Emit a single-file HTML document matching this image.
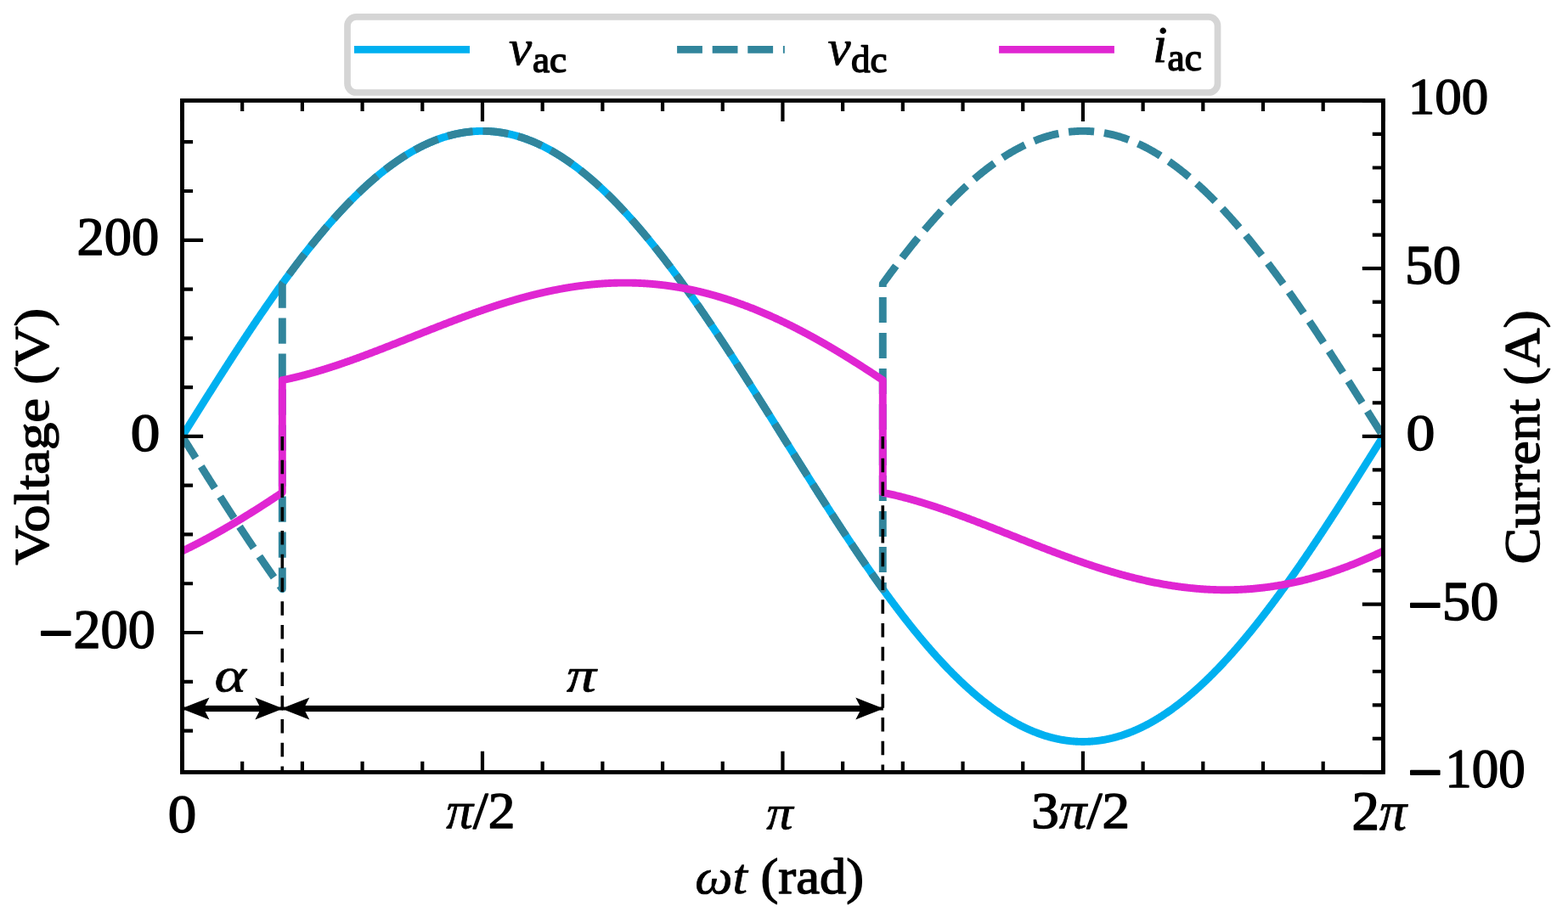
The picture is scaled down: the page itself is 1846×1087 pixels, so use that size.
<!DOCTYPE html>
<html><head><meta charset="utf-8"><style>
html,body{margin:0;padding:0;background:#fff;}
svg{display:block;}
text{font-family:"Liberation Serif","DejaVu Serif",serif;font-size:64.8px;fill:#000;stroke:#000;stroke-width:1.5px;stroke-linejoin:round;}
.it{font-style:italic;stroke-width:0.8px;}
</style></head><body>
<svg width="1846" height="1087" viewBox="0 0 1846 1087">
<rect x="0" y="0" width="1846" height="1087" fill="#fff"/>
<defs><clipPath id="ax"><rect x="214.5" y="118.4" width="1413.9" height="791.0"/></clipPath></defs>

<g clip-path="url(#ax)" fill="none" stroke-linejoin="round">
<path d="M214.50,513.90 L215.21,512.77 L215.91,511.64 L216.62,510.51 L217.33,509.38 L218.03,508.25 L218.74,507.12 L219.45,505.99 L220.16,504.86 L220.86,503.74 L221.57,502.61 L222.28,501.48 L222.98,500.35 L223.69,499.22 L224.40,498.09 L225.10,496.96 L225.81,495.83 L226.52,494.71 L227.23,493.58 L227.93,492.45 L228.64,491.32 L229.35,490.20 L230.05,489.07 L230.76,487.94 L231.47,486.82 L232.17,485.69 L232.88,484.56 L233.59,483.44 L234.29,482.31 L235.00,481.19 L235.71,480.06 L236.42,478.94 L237.12,477.82 L237.83,476.69 L238.54,475.57 L239.24,474.45 L239.95,473.32 L240.66,472.20 L241.36,471.08 L242.07,469.96 L242.78,468.84 L243.48,467.72 L244.19,466.60 L244.90,465.48 L245.61,464.36 L246.31,463.24 L247.02,462.12 L247.73,461.00 L248.43,459.89 L249.14,458.77 L249.85,457.65 L250.55,456.54 L251.26,455.42 L251.97,454.31 L252.68,453.20 L253.38,452.08 L254.09,450.97 L254.80,449.86 L255.50,448.75 L256.21,447.64 L256.92,446.53 L257.62,445.42 L258.33,444.31 L259.04,443.20 L259.74,442.10 L260.45,440.99 L261.16,439.88 L261.87,438.78 L262.57,437.67 L263.28,436.57 L263.99,435.47 L264.69,434.37 L265.40,433.26 L266.11,432.16 L266.81,431.06 L267.52,429.97 L268.23,428.87 L268.94,427.77 L269.64,426.67 L270.35,425.58 L271.06,424.48 L271.76,423.39 L272.47,422.30 L273.18,421.21 L273.88,420.12 L274.59,419.03 L275.30,417.94 L276.00,416.85 L276.71,415.76 L277.42,414.68 L278.13,413.59 L278.83,412.51 L279.54,411.42 L280.25,410.34 L280.95,409.26 L281.66,408.18 L282.37,407.10 L283.07,406.02 L283.78,404.95 L284.49,403.87 L285.19,402.79 L285.90,401.72 L286.61,400.65 L287.32,399.58 L288.02,398.51 L288.73,397.44 L289.44,396.37 L290.14,395.30 L290.85,394.24 L291.56,393.17 L292.26,392.11 L292.97,391.05 L293.68,389.99 L294.39,388.93 L295.09,387.87 L295.80,386.81 L296.51,385.75 L297.21,384.70 L297.92,383.65 L298.63,382.59 L299.33,381.54 L300.04,380.49 L300.75,379.44 L301.45,378.40 L302.16,377.35 L302.87,376.31 L303.58,375.27 L304.28,374.22 L304.99,373.18 L305.70,372.14 L306.40,371.11 L307.11,370.07 L307.82,369.04 L308.52,368.00 L309.23,366.97 L309.94,365.94 L310.65,364.91 L311.35,363.89 L312.06,362.86 L312.77,361.84 L313.47,360.81 L314.18,359.79 L314.89,358.77 L315.59,357.75 L316.30,356.74 L317.01,355.72 L317.71,354.71 L318.42,353.70 L319.13,352.69 L319.84,351.68 L320.54,350.67 L321.25,349.66 L321.96,348.66 L322.66,347.66 L323.37,346.66 L324.08,345.66 L324.78,344.66 L325.49,343.66 L326.20,342.67 L326.91,341.68 L327.61,340.69 L328.32,339.70 L329.03,338.71 L329.73,337.73 L330.44,336.74 L331.15,335.76 L331.85,334.78 L332.56,333.80 L333.27,332.82 L333.97,331.85 L334.68,330.88 L335.39,329.91 L336.10,328.94 L336.80,327.97 L337.51,327.00 L338.22,326.04 L338.92,325.08 L339.63,324.12 L340.34,323.16 L341.04,322.20 L341.75,321.25 L342.46,320.29 L343.16,319.34 L343.87,318.39 L344.58,317.45 L345.29,316.50 L345.99,315.56 L346.70,314.62 L347.41,313.68 L348.11,312.74 L348.82,311.81 L349.53,310.87 L350.23,309.94 L350.94,309.01 L351.65,308.08 L352.36,307.16 L353.06,306.24 L353.77,305.32 L354.48,304.40 L355.18,303.48 L355.89,302.56 L356.60,301.65 L357.30,300.74 L358.01,299.83 L358.72,298.93 L359.42,298.02 L360.13,297.12 L360.84,296.22 L361.55,295.32 L362.25,294.43 L362.96,293.53 L363.67,292.64 L364.37,291.75 L365.08,290.86 L365.79,289.98 L366.49,289.10 L367.20,288.22 L367.91,287.34 L368.62,286.46 L369.32,285.59 L370.03,284.72 L370.74,283.85 L371.44,282.98 L372.15,282.12 L372.86,281.25 L373.56,280.39 L374.27,279.54 L374.98,278.68 L375.68,277.83 L376.39,276.98 L377.10,276.13 L377.81,275.28 L378.51,274.44 L379.22,273.60 L379.93,272.76 L380.63,271.92 L381.34,271.09 L382.05,270.26 L382.75,269.43 L383.46,268.60 L384.17,267.77 L384.87,266.95 L385.58,266.13 L386.29,265.31 L387.00,264.50 L387.70,263.69 L388.41,262.88 L389.12,262.07 L389.82,261.27 L390.53,260.46 L391.24,259.66 L391.94,258.87 L392.65,258.07 L393.36,257.28 L394.07,256.49 L394.77,255.70 L395.48,254.92 L396.19,254.13 L396.89,253.35 L397.60,252.58 L398.31,251.80 L399.01,251.03 L399.72,250.26 L400.43,249.49 L401.13,248.73 L401.84,247.97 L402.55,247.21 L403.26,246.45 L403.96,245.70 L404.67,244.95 L405.38,244.20 L406.08,243.46 L406.79,242.71 L407.50,241.97 L408.20,241.23 L408.91,240.50 L409.62,239.77 L410.33,239.04 L411.03,238.31 L411.74,237.59 L412.45,236.87 L413.15,236.15 L413.86,235.43 L414.57,234.72 L415.27,234.01 L415.98,233.30 L416.69,232.59 L417.39,231.89 L418.10,231.19 L418.81,230.50 L419.52,229.80 L420.22,229.11 L420.93,228.42 L421.64,227.74 L422.34,227.06 L423.05,226.38 L423.76,225.70 L424.46,225.03 L425.17,224.36 L425.88,223.69 L426.59,223.02 L427.29,222.36 L428.00,221.70 L428.71,221.04 L429.41,220.39 L430.12,219.74 L430.83,219.09 L431.53,218.44 L432.24,217.80 L432.95,217.16 L433.65,216.53 L434.36,215.89 L435.07,215.26 L435.78,214.64 L436.48,214.01 L437.19,213.39 L437.90,212.77 L438.60,212.15 L439.31,211.54 L440.02,210.93 L440.72,210.33 L441.43,209.72 L442.14,209.12 L442.84,208.52 L443.55,207.93 L444.26,207.34 L444.97,206.75 L445.67,206.16 L446.38,205.58 L447.09,205.00 L447.79,204.42 L448.50,203.85 L449.21,203.28 L449.91,202.71 L450.62,202.15 L451.33,201.59 L452.04,201.03 L452.74,200.47 L453.45,199.92 L454.16,199.37 L454.86,198.83 L455.57,198.29 L456.28,197.75 L456.98,197.21 L457.69,196.68 L458.40,196.15 L459.10,195.62 L459.81,195.10 L460.52,194.57 L461.23,194.06 L461.93,193.54 L462.64,193.03 L463.35,192.52 L464.05,192.02 L464.76,191.52 L465.47,191.02 L466.17,190.52 L466.88,190.03 L467.59,189.54 L468.30,189.06 L469.00,188.57 L469.71,188.09 L470.42,187.62 L471.12,187.15 L471.83,186.68 L472.54,186.21 L473.24,185.75 L473.95,185.29 L474.66,184.83 L475.36,184.38 L476.07,183.93 L476.78,183.48 L477.49,183.03 L478.19,182.59 L478.90,182.16 L479.61,181.72 L480.31,181.29 L481.02,180.87 L481.73,180.44 L482.43,180.02 L483.14,179.60 L483.85,179.19 L484.55,178.78 L485.26,178.37 L485.97,177.97 L486.68,177.57 L487.38,177.17 L488.09,176.77 L488.80,176.38 L489.50,175.99 L490.21,175.61 L490.92,175.23 L491.62,174.85 L492.33,174.48 L493.04,174.11 L493.75,173.74 L494.45,173.38 L495.16,173.01 L495.87,172.66 L496.57,172.30 L497.28,171.95 L497.99,171.60 L498.69,171.26 L499.40,170.92 L500.11,170.58 L500.81,170.25 L501.52,169.92 L502.23,169.59 L502.94,169.27 L503.64,168.95 L504.35,168.63 L505.06,168.32 L505.76,168.01 L506.47,167.70 L507.18,167.40 L507.88,167.10 L508.59,166.80 L509.30,166.51 L510.01,166.22 L510.71,165.93 L511.42,165.65 L512.13,165.37 L512.83,165.10 L513.54,164.82 L514.25,164.55 L514.95,164.29 L515.66,164.03 L516.37,163.77 L517.07,163.51 L517.78,163.26 L518.49,163.01 L519.20,162.77 L519.90,162.53 L520.61,162.29 L521.32,162.06 L522.02,161.82 L522.73,161.60 L523.44,161.37 L524.14,161.15 L524.85,160.94 L525.56,160.72 L526.26,160.51 L526.97,160.31 L527.68,160.10 L528.39,159.90 L529.09,159.71 L529.80,159.52 L530.51,159.33 L531.21,159.14 L531.92,158.96 L532.63,158.78 L533.33,158.61 L534.04,158.43 L534.75,158.27 L535.46,158.10 L536.16,157.94 L536.87,157.78 L537.58,157.63 L538.28,157.48 L538.99,157.33 L539.70,157.19 L540.40,157.05 L541.11,156.91 L541.82,156.78 L542.52,156.65 L543.23,156.53 L543.94,156.40 L544.65,156.29 L545.35,156.17 L546.06,156.06 L546.77,155.95 L547.47,155.85 L548.18,155.74 L548.89,155.65 L549.59,155.55 L550.30,155.46 L551.01,155.38 L551.72,155.29 L552.42,155.21 L553.13,155.14 L553.84,155.06 L554.54,154.99 L555.25,154.93 L555.96,154.87 L556.66,154.81 L557.37,154.75 L558.08,154.70 L558.78,154.65 L559.49,154.61 L560.20,154.57 L560.91,154.53 L561.61,154.50 L562.32,154.47 L563.03,154.44 L563.73,154.42 L564.44,154.40 L565.15,154.38 L565.85,154.37 L566.56,154.36 L567.27,154.36 L567.98,154.35 L568.68,154.36 L569.39,154.36 L570.10,154.37 L570.80,154.38 L571.51,154.40 L572.22,154.42 L572.92,154.44 L573.63,154.47 L574.34,154.50 L575.04,154.53 L575.75,154.57 L576.46,154.61 L577.17,154.65 L577.87,154.70 L578.58,154.75 L579.29,154.81 L579.99,154.87 L580.70,154.93 L581.41,154.99 L582.11,155.06 L582.82,155.14 L583.53,155.21 L584.23,155.29 L584.94,155.38 L585.65,155.46 L586.36,155.55 L587.06,155.65 L587.77,155.74 L588.48,155.85 L589.18,155.95 L589.89,156.06 L590.60,156.17 L591.30,156.29 L592.01,156.40 L592.72,156.53 L593.43,156.65 L594.13,156.78 L594.84,156.91 L595.55,157.05 L596.25,157.19 L596.96,157.33 L597.67,157.48 L598.37,157.63 L599.08,157.78 L599.79,157.94 L600.49,158.10 L601.20,158.27 L601.91,158.43 L602.62,158.61 L603.32,158.78 L604.03,158.96 L604.74,159.14 L605.44,159.33 L606.15,159.52 L606.86,159.71 L607.56,159.90 L608.27,160.10 L608.98,160.31 L609.69,160.51 L610.39,160.72 L611.10,160.94 L611.81,161.15 L612.51,161.37 L613.22,161.60 L613.93,161.82 L614.63,162.06 L615.34,162.29 L616.05,162.53 L616.75,162.77 L617.46,163.01 L618.17,163.26 L618.88,163.51 L619.58,163.77 L620.29,164.03 L621.00,164.29 L621.70,164.55 L622.41,164.82 L623.12,165.10 L623.82,165.37 L624.53,165.65 L625.24,165.93 L625.94,166.22 L626.65,166.51 L627.36,166.80 L628.07,167.10 L628.77,167.40 L629.48,167.70 L630.19,168.01 L630.89,168.32 L631.60,168.63 L632.31,168.95 L633.01,169.27 L633.72,169.59 L634.43,169.92 L635.14,170.25 L635.84,170.58 L636.55,170.92 L637.26,171.26 L637.96,171.60 L638.67,171.95 L639.38,172.30 L640.08,172.66 L640.79,173.01 L641.50,173.38 L642.20,173.74 L642.91,174.11 L643.62,174.48 L644.33,174.85 L645.03,175.23 L645.74,175.61 L646.45,175.99 L647.15,176.38 L647.86,176.77 L648.57,177.17 L649.27,177.57 L649.98,177.97 L650.69,178.37 L651.40,178.78 L652.10,179.19 L652.81,179.60 L653.52,180.02 L654.22,180.44 L654.93,180.87 L655.64,181.29 L656.34,181.72 L657.05,182.16 L657.76,182.59 L658.46,183.03 L659.17,183.48 L659.88,183.93 L660.59,184.38 L661.29,184.83 L662.00,185.29 L662.71,185.75 L663.41,186.21 L664.12,186.68 L664.83,187.15 L665.53,187.62 L666.24,188.09 L666.95,188.57 L667.65,189.06 L668.36,189.54 L669.07,190.03 L669.78,190.52 L670.48,191.02 L671.19,191.52 L671.90,192.02 L672.60,192.52 L673.31,193.03 L674.02,193.54 L674.72,194.06 L675.43,194.57 L676.14,195.10 L676.85,195.62 L677.55,196.15 L678.26,196.68 L678.97,197.21 L679.67,197.75 L680.38,198.29 L681.09,198.83 L681.79,199.37 L682.50,199.92 L683.21,200.47 L683.91,201.03 L684.62,201.59 L685.33,202.15 L686.04,202.71 L686.74,203.28 L687.45,203.85 L688.16,204.42 L688.86,205.00 L689.57,205.58 L690.28,206.16 L690.98,206.75 L691.69,207.34 L692.40,207.93 L693.11,208.52 L693.81,209.12 L694.52,209.72 L695.23,210.33 L695.93,210.93 L696.64,211.54 L697.35,212.15 L698.05,212.77 L698.76,213.39 L699.47,214.01 L700.17,214.64 L700.88,215.26 L701.59,215.89 L702.30,216.53 L703.00,217.16 L703.71,217.80 L704.42,218.44 L705.12,219.09 L705.83,219.74 L706.54,220.39 L707.24,221.04 L707.95,221.70 L708.66,222.36 L709.37,223.02 L710.07,223.69 L710.78,224.36 L711.49,225.03 L712.19,225.70 L712.90,226.38 L713.61,227.06 L714.31,227.74 L715.02,228.42 L715.73,229.11 L716.43,229.80 L717.14,230.50 L717.85,231.19 L718.56,231.89 L719.26,232.59 L719.97,233.30 L720.68,234.01 L721.38,234.72 L722.09,235.43 L722.80,236.15 L723.50,236.87 L724.21,237.59 L724.92,238.31 L725.62,239.04 L726.33,239.77 L727.04,240.50 L727.75,241.23 L728.45,241.97 L729.16,242.71 L729.87,243.46 L730.57,244.20 L731.28,244.95 L731.99,245.70 L732.69,246.45 L733.40,247.21 L734.11,247.97 L734.82,248.73 L735.52,249.49 L736.23,250.26 L736.94,251.03 L737.64,251.80 L738.35,252.58 L739.06,253.35 L739.76,254.13 L740.47,254.92 L741.18,255.70 L741.88,256.49 L742.59,257.28 L743.30,258.07 L744.01,258.87 L744.71,259.66 L745.42,260.46 L746.13,261.27 L746.83,262.07 L747.54,262.88 L748.25,263.69 L748.95,264.50 L749.66,265.31 L750.37,266.13 L751.08,266.95 L751.78,267.77 L752.49,268.60 L753.20,269.43 L753.90,270.26 L754.61,271.09 L755.32,271.92 L756.02,272.76 L756.73,273.60 L757.44,274.44 L758.14,275.28 L758.85,276.13 L759.56,276.98 L760.27,277.83 L760.97,278.68 L761.68,279.54 L762.39,280.39 L763.09,281.25 L763.80,282.12 L764.51,282.98 L765.21,283.85 L765.92,284.72 L766.63,285.59 L767.33,286.46 L768.04,287.34 L768.75,288.22 L769.46,289.10 L770.16,289.98 L770.87,290.86 L771.58,291.75 L772.28,292.64 L772.99,293.53 L773.70,294.43 L774.40,295.32 L775.11,296.22 L775.82,297.12 L776.53,298.02 L777.23,298.93 L777.94,299.83 L778.65,300.74 L779.35,301.65 L780.06,302.56 L780.77,303.48 L781.47,304.40 L782.18,305.32 L782.89,306.24 L783.59,307.16 L784.30,308.08 L785.01,309.01 L785.72,309.94 L786.42,310.87 L787.13,311.81 L787.84,312.74 L788.54,313.68 L789.25,314.62 L789.96,315.56 L790.66,316.50 L791.37,317.45 L792.08,318.39 L792.79,319.34 L793.49,320.29 L794.20,321.25 L794.91,322.20 L795.61,323.16 L796.32,324.12 L797.03,325.08 L797.73,326.04 L798.44,327.00 L799.15,327.97 L799.85,328.94 L800.56,329.91 L801.27,330.88 L801.98,331.85 L802.68,332.82 L803.39,333.80 L804.10,334.78 L804.80,335.76 L805.51,336.74 L806.22,337.73 L806.92,338.71 L807.63,339.70 L808.34,340.69 L809.04,341.68 L809.75,342.67 L810.46,343.66 L811.17,344.66 L811.87,345.66 L812.58,346.66 L813.29,347.66 L813.99,348.66 L814.70,349.66 L815.41,350.67 L816.11,351.68 L816.82,352.69 L817.53,353.70 L818.24,354.71 L818.94,355.72 L819.65,356.74 L820.36,357.75 L821.06,358.77 L821.77,359.79 L822.48,360.81 L823.18,361.84 L823.89,362.86 L824.60,363.89 L825.30,364.91 L826.01,365.94 L826.72,366.97 L827.43,368.00 L828.13,369.04 L828.84,370.07 L829.55,371.11 L830.25,372.14 L830.96,373.18 L831.67,374.22 L832.37,375.27 L833.08,376.31 L833.79,377.35 L834.50,378.40 L835.20,379.44 L835.91,380.49 L836.62,381.54 L837.32,382.59 L838.03,383.65 L838.74,384.70 L839.44,385.75 L840.15,386.81 L840.86,387.87 L841.56,388.93 L842.27,389.99 L842.98,391.05 L843.69,392.11 L844.39,393.17 L845.10,394.24 L845.81,395.30 L846.51,396.37 L847.22,397.44 L847.93,398.51 L848.63,399.58 L849.34,400.65 L850.05,401.72 L850.76,402.79 L851.46,403.87 L852.17,404.95 L852.88,406.02 L853.58,407.10 L854.29,408.18 L855.00,409.26 L855.70,410.34 L856.41,411.42 L857.12,412.51 L857.82,413.59 L858.53,414.68 L859.24,415.76 L859.95,416.85 L860.65,417.94 L861.36,419.03 L862.07,420.12 L862.77,421.21 L863.48,422.30 L864.19,423.39 L864.89,424.48 L865.60,425.58 L866.31,426.67 L867.01,427.77 L867.72,428.87 L868.43,429.97 L869.14,431.06 L869.84,432.16 L870.55,433.26 L871.26,434.37 L871.96,435.47 L872.67,436.57 L873.38,437.67 L874.08,438.78 L874.79,439.88 L875.50,440.99 L876.21,442.10 L876.91,443.20 L877.62,444.31 L878.33,445.42 L879.03,446.53 L879.74,447.64 L880.45,448.75 L881.15,449.86 L881.86,450.97 L882.57,452.08 L883.27,453.20 L883.98,454.31 L884.69,455.42 L885.40,456.54 L886.10,457.65 L886.81,458.77 L887.52,459.89 L888.22,461.00 L888.93,462.12 L889.64,463.24 L890.34,464.36 L891.05,465.48 L891.76,466.60 L892.47,467.72 L893.17,468.84 L893.88,469.96 L894.59,471.08 L895.29,472.20 L896.00,473.32 L896.71,474.45 L897.41,475.57 L898.12,476.69 L898.83,477.82 L899.53,478.94 L900.24,480.06 L900.95,481.19 L901.66,482.31 L902.36,483.44 L903.07,484.56 L903.78,485.69 L904.48,486.82 L905.19,487.94 L905.90,489.07 L906.60,490.20 L907.31,491.32 L908.02,492.45 L908.72,493.58 L909.43,494.71 L910.14,495.83 L910.85,496.96 L911.55,498.09 L912.26,499.22 L912.97,500.35 L913.67,501.48 L914.38,502.61 L915.09,503.74 L915.79,504.86 L916.50,505.99 L917.21,507.12 L917.92,508.25 L918.62,509.38 L919.33,510.51 L920.04,511.64 L920.74,512.77 L921.45,513.90 L922.16,515.03 L922.86,516.16 L923.57,517.29 L924.28,518.42 L924.98,519.55 L925.69,520.68 L926.40,521.81 L927.11,522.94 L927.81,524.06 L928.52,525.19 L929.23,526.32 L929.93,527.45 L930.64,528.58 L931.35,529.71 L932.05,530.84 L932.76,531.97 L933.47,533.09 L934.18,534.22 L934.88,535.35 L935.59,536.48 L936.30,537.60 L937.00,538.73 L937.71,539.86 L938.42,540.98 L939.12,542.11 L939.83,543.24 L940.54,544.36 L941.24,545.49 L941.95,546.61 L942.66,547.74 L943.37,548.86 L944.07,549.98 L944.78,551.11 L945.49,552.23 L946.19,553.35 L946.90,554.48 L947.61,555.60 L948.31,556.72 L949.02,557.84 L949.73,558.96 L950.43,560.08 L951.14,561.20 L951.85,562.32 L952.56,563.44 L953.26,564.56 L953.97,565.68 L954.68,566.80 L955.38,567.91 L956.09,569.03 L956.80,570.15 L957.50,571.26 L958.21,572.38 L958.92,573.49 L959.63,574.60 L960.33,575.72 L961.04,576.83 L961.75,577.94 L962.45,579.05 L963.16,580.16 L963.87,581.27 L964.57,582.38 L965.28,583.49 L965.99,584.60 L966.69,585.70 L967.40,586.81 L968.11,587.92 L968.82,589.02 L969.52,590.13 L970.23,591.23 L970.94,592.33 L971.64,593.43 L972.35,594.54 L973.06,595.64 L973.76,596.74 L974.47,597.83 L975.18,598.93 L975.89,600.03 L976.59,601.13 L977.30,602.22 L978.01,603.32 L978.71,604.41 L979.42,605.50 L980.13,606.59 L980.83,607.68 L981.54,608.77 L982.25,609.86 L982.95,610.95 L983.66,612.04 L984.37,613.12 L985.08,614.21 L985.78,615.29 L986.49,616.38 L987.20,617.46 L987.90,618.54 L988.61,619.62 L989.32,620.70 L990.02,621.78 L990.73,622.85 L991.44,623.93 L992.15,625.01 L992.85,626.08 L993.56,627.15 L994.27,628.22 L994.97,629.29 L995.68,630.36 L996.39,631.43 L997.09,632.50 L997.80,633.56 L998.51,634.63 L999.21,635.69 L999.92,636.75 L1000.63,637.81 L1001.34,638.87 L1002.04,639.93 L1002.75,640.99 L1003.46,642.05 L1004.16,643.10 L1004.87,644.15 L1005.58,645.21 L1006.28,646.26 L1006.99,647.31 L1007.70,648.36 L1008.40,649.40 L1009.11,650.45 L1009.82,651.49 L1010.53,652.53 L1011.23,653.58 L1011.94,654.62 L1012.65,655.66 L1013.35,656.69 L1014.06,657.73 L1014.77,658.76 L1015.47,659.80 L1016.18,660.83 L1016.89,661.86 L1017.60,662.89 L1018.30,663.91 L1019.01,664.94 L1019.72,665.96 L1020.42,666.99 L1021.13,668.01 L1021.84,669.03 L1022.54,670.05 L1023.25,671.06 L1023.96,672.08 L1024.66,673.09 L1025.37,674.10 L1026.08,675.11 L1026.79,676.12 L1027.49,677.13 L1028.20,678.14 L1028.91,679.14 L1029.61,680.14 L1030.32,681.14 L1031.03,682.14 L1031.73,683.14 L1032.44,684.14 L1033.15,685.13 L1033.86,686.12 L1034.56,687.11 L1035.27,688.10 L1035.98,689.09 L1036.68,690.07 L1037.39,691.06 L1038.10,692.04 L1038.80,693.02 L1039.51,694.00 L1040.22,694.98 L1040.92,695.95 L1041.63,696.92 L1042.34,697.89 L1043.05,698.86 L1043.75,699.83 L1044.46,700.80 L1045.17,701.76 L1045.87,702.72 L1046.58,703.68 L1047.29,704.64 L1047.99,705.60 L1048.70,706.55 L1049.41,707.51 L1050.11,708.46 L1050.82,709.41 L1051.53,710.35 L1052.24,711.30 L1052.94,712.24 L1053.65,713.18 L1054.36,714.12 L1055.06,715.06 L1055.77,715.99 L1056.48,716.93 L1057.18,717.86 L1057.89,718.79 L1058.60,719.72 L1059.31,720.64 L1060.01,721.56 L1060.72,722.48 L1061.43,723.40 L1062.13,724.32 L1062.84,725.24 L1063.55,726.15 L1064.25,727.06 L1064.96,727.97 L1065.67,728.87 L1066.37,729.78 L1067.08,730.68 L1067.79,731.58 L1068.50,732.48 L1069.20,733.37 L1069.91,734.27 L1070.62,735.16 L1071.32,736.05 L1072.03,736.94 L1072.74,737.82 L1073.44,738.70 L1074.15,739.58 L1074.86,740.46 L1075.57,741.34 L1076.27,742.21 L1076.98,743.08 L1077.69,743.95 L1078.39,744.82 L1079.10,745.68 L1079.81,746.55 L1080.51,747.41 L1081.22,748.26 L1081.93,749.12 L1082.63,749.97 L1083.34,750.82 L1084.05,751.67 L1084.76,752.52 L1085.46,753.36 L1086.17,754.20 L1086.88,755.04 L1087.58,755.88 L1088.29,756.71 L1089.00,757.54 L1089.70,758.37 L1090.41,759.20 L1091.12,760.03 L1091.82,760.85 L1092.53,761.67 L1093.24,762.49 L1093.95,763.30 L1094.65,764.11 L1095.36,764.92 L1096.07,765.73 L1096.77,766.53 L1097.48,767.34 L1098.19,768.14 L1098.89,768.93 L1099.60,769.73 L1100.31,770.52 L1101.02,771.31 L1101.72,772.10 L1102.43,772.88 L1103.14,773.67 L1103.84,774.45 L1104.55,775.22 L1105.26,776.00 L1105.96,776.77 L1106.67,777.54 L1107.38,778.31 L1108.08,779.07 L1108.79,779.83 L1109.50,780.59 L1110.21,781.35 L1110.91,782.10 L1111.62,782.85 L1112.33,783.60 L1113.03,784.34 L1113.74,785.09 L1114.45,785.83 L1115.15,786.57 L1115.86,787.30 L1116.57,788.03 L1117.28,788.76 L1117.98,789.49 L1118.69,790.21 L1119.40,790.93 L1120.10,791.65 L1120.81,792.37 L1121.52,793.08 L1122.22,793.79 L1122.93,794.50 L1123.64,795.21 L1124.34,795.91 L1125.05,796.61 L1125.76,797.30 L1126.47,798.00 L1127.17,798.69 L1127.88,799.38 L1128.59,800.06 L1129.29,800.74 L1130.00,801.42 L1130.71,802.10 L1131.41,802.77 L1132.12,803.44 L1132.83,804.11 L1133.54,804.78 L1134.24,805.44 L1134.95,806.10 L1135.66,806.76 L1136.36,807.41 L1137.07,808.06 L1137.78,808.71 L1138.48,809.36 L1139.19,810.00 L1139.90,810.64 L1140.60,811.27 L1141.31,811.91 L1142.02,812.54 L1142.73,813.16 L1143.43,813.79 L1144.14,814.41 L1144.85,815.03 L1145.55,815.65 L1146.26,816.26 L1146.97,816.87 L1147.67,817.47 L1148.38,818.08 L1149.09,818.68 L1149.79,819.28 L1150.50,819.87 L1151.21,820.46 L1151.92,821.05 L1152.62,821.64 L1153.33,822.22 L1154.04,822.80 L1154.74,823.38 L1155.45,823.95 L1156.16,824.52 L1156.86,825.09 L1157.57,825.65 L1158.28,826.21 L1158.99,826.77 L1159.69,827.33 L1160.40,827.88 L1161.11,828.43 L1161.81,828.97 L1162.52,829.51 L1163.23,830.05 L1163.93,830.59 L1164.64,831.12 L1165.35,831.65 L1166.05,832.18 L1166.76,832.70 L1167.47,833.23 L1168.18,833.74 L1168.88,834.26 L1169.59,834.77 L1170.30,835.28 L1171.00,835.78 L1171.71,836.28 L1172.42,836.78 L1173.12,837.28 L1173.83,837.77 L1174.54,838.26 L1175.25,838.74 L1175.95,839.23 L1176.66,839.71 L1177.37,840.18 L1178.07,840.65 L1178.78,841.12 L1179.49,841.59 L1180.19,842.05 L1180.90,842.51 L1181.61,842.97 L1182.31,843.42 L1183.02,843.87 L1183.73,844.32 L1184.44,844.77 L1185.14,845.21 L1185.85,845.64 L1186.56,846.08 L1187.26,846.51 L1187.97,846.93 L1188.68,847.36 L1189.38,847.78 L1190.09,848.20 L1190.80,848.61 L1191.50,849.02 L1192.21,849.43 L1192.92,849.83 L1193.63,850.23 L1194.33,850.63 L1195.04,851.03 L1195.75,851.42 L1196.45,851.81 L1197.16,852.19 L1197.87,852.57 L1198.57,852.95 L1199.28,853.32 L1199.99,853.69 L1200.70,854.06 L1201.40,854.42 L1202.11,854.79 L1202.82,855.14 L1203.52,855.50 L1204.23,855.85 L1204.94,856.20 L1205.64,856.54 L1206.35,856.88 L1207.06,857.22 L1207.76,857.55 L1208.47,857.88 L1209.18,858.21 L1209.89,858.53 L1210.59,858.85 L1211.30,859.17 L1212.01,859.48 L1212.71,859.79 L1213.42,860.10 L1214.13,860.40 L1214.83,860.70 L1215.54,861.00 L1216.25,861.29 L1216.96,861.58 L1217.66,861.87 L1218.37,862.15 L1219.08,862.43 L1219.78,862.70 L1220.49,862.98 L1221.20,863.25 L1221.90,863.51 L1222.61,863.77 L1223.32,864.03 L1224.02,864.29 L1224.73,864.54 L1225.44,864.79 L1226.15,865.03 L1226.85,865.27 L1227.56,865.51 L1228.27,865.74 L1228.97,865.98 L1229.68,866.20 L1230.39,866.43 L1231.09,866.65 L1231.80,866.86 L1232.51,867.08 L1233.21,867.29 L1233.92,867.49 L1234.63,867.70 L1235.34,867.90 L1236.04,868.09 L1236.75,868.28 L1237.46,868.47 L1238.16,868.66 L1238.87,868.84 L1239.58,869.02 L1240.28,869.19 L1240.99,869.37 L1241.70,869.53 L1242.41,869.70 L1243.11,869.86 L1243.82,870.02 L1244.53,870.17 L1245.23,870.32 L1245.94,870.47 L1246.65,870.61 L1247.35,870.75 L1248.06,870.89 L1248.77,871.02 L1249.47,871.15 L1250.18,871.27 L1250.89,871.40 L1251.60,871.51 L1252.30,871.63 L1253.01,871.74 L1253.72,871.85 L1254.42,871.95 L1255.13,872.06 L1255.84,872.15 L1256.54,872.25 L1257.25,872.34 L1257.96,872.42 L1258.67,872.51 L1259.37,872.59 L1260.08,872.66 L1260.79,872.74 L1261.49,872.81 L1262.20,872.87 L1262.91,872.93 L1263.61,872.99 L1264.32,873.05 L1265.03,873.10 L1265.73,873.15 L1266.44,873.19 L1267.15,873.23 L1267.86,873.27 L1268.56,873.30 L1269.27,873.33 L1269.98,873.36 L1270.68,873.38 L1271.39,873.40 L1272.10,873.42 L1272.80,873.43 L1273.51,873.44 L1274.22,873.44 L1274.93,873.45 L1275.63,873.44 L1276.34,873.44 L1277.05,873.43 L1277.75,873.42 L1278.46,873.40 L1279.17,873.38 L1279.87,873.36 L1280.58,873.33 L1281.29,873.30 L1281.99,873.27 L1282.70,873.23 L1283.41,873.19 L1284.12,873.15 L1284.82,873.10 L1285.53,873.05 L1286.24,872.99 L1286.94,872.93 L1287.65,872.87 L1288.36,872.81 L1289.06,872.74 L1289.77,872.66 L1290.48,872.59 L1291.18,872.51 L1291.89,872.42 L1292.60,872.34 L1293.31,872.25 L1294.01,872.15 L1294.72,872.06 L1295.43,871.95 L1296.13,871.85 L1296.84,871.74 L1297.55,871.63 L1298.25,871.51 L1298.96,871.40 L1299.67,871.27 L1300.38,871.15 L1301.08,871.02 L1301.79,870.89 L1302.50,870.75 L1303.20,870.61 L1303.91,870.47 L1304.62,870.32 L1305.32,870.17 L1306.03,870.02 L1306.74,869.86 L1307.44,869.70 L1308.15,869.53 L1308.86,869.37 L1309.57,869.19 L1310.27,869.02 L1310.98,868.84 L1311.69,868.66 L1312.39,868.47 L1313.10,868.28 L1313.81,868.09 L1314.51,867.90 L1315.22,867.70 L1315.93,867.49 L1316.64,867.29 L1317.34,867.08 L1318.05,866.86 L1318.76,866.65 L1319.46,866.43 L1320.17,866.20 L1320.88,865.98 L1321.58,865.74 L1322.29,865.51 L1323.00,865.27 L1323.70,865.03 L1324.41,864.79 L1325.12,864.54 L1325.83,864.29 L1326.53,864.03 L1327.24,863.77 L1327.95,863.51 L1328.65,863.25 L1329.36,862.98 L1330.07,862.70 L1330.77,862.43 L1331.48,862.15 L1332.19,861.87 L1332.89,861.58 L1333.60,861.29 L1334.31,861.00 L1335.02,860.70 L1335.72,860.40 L1336.43,860.10 L1337.14,859.79 L1337.84,859.48 L1338.55,859.17 L1339.26,858.85 L1339.96,858.53 L1340.67,858.21 L1341.38,857.88 L1342.09,857.55 L1342.79,857.22 L1343.50,856.88 L1344.21,856.54 L1344.91,856.20 L1345.62,855.85 L1346.33,855.50 L1347.03,855.14 L1347.74,854.79 L1348.45,854.42 L1349.15,854.06 L1349.86,853.69 L1350.57,853.32 L1351.28,852.95 L1351.98,852.57 L1352.69,852.19 L1353.40,851.81 L1354.10,851.42 L1354.81,851.03 L1355.52,850.63 L1356.22,850.23 L1356.93,849.83 L1357.64,849.43 L1358.35,849.02 L1359.05,848.61 L1359.76,848.20 L1360.47,847.78 L1361.17,847.36 L1361.88,846.93 L1362.59,846.51 L1363.29,846.08 L1364.00,845.64 L1364.71,845.21 L1365.41,844.77 L1366.12,844.32 L1366.83,843.87 L1367.54,843.42 L1368.24,842.97 L1368.95,842.51 L1369.66,842.05 L1370.36,841.59 L1371.07,841.12 L1371.78,840.65 L1372.48,840.18 L1373.19,839.71 L1373.90,839.23 L1374.60,838.74 L1375.31,838.26 L1376.02,837.77 L1376.73,837.28 L1377.43,836.78 L1378.14,836.28 L1378.85,835.78 L1379.55,835.28 L1380.26,834.77 L1380.97,834.26 L1381.67,833.74 L1382.38,833.23 L1383.09,832.70 L1383.80,832.18 L1384.50,831.65 L1385.21,831.12 L1385.92,830.59 L1386.62,830.05 L1387.33,829.51 L1388.04,828.97 L1388.74,828.43 L1389.45,827.88 L1390.16,827.33 L1390.86,826.77 L1391.57,826.21 L1392.28,825.65 L1392.99,825.09 L1393.69,824.52 L1394.40,823.95 L1395.11,823.38 L1395.81,822.80 L1396.52,822.22 L1397.23,821.64 L1397.93,821.05 L1398.64,820.46 L1399.35,819.87 L1400.06,819.28 L1400.76,818.68 L1401.47,818.08 L1402.18,817.47 L1402.88,816.87 L1403.59,816.26 L1404.30,815.65 L1405.00,815.03 L1405.71,814.41 L1406.42,813.79 L1407.12,813.16 L1407.83,812.54 L1408.54,811.91 L1409.25,811.27 L1409.95,810.64 L1410.66,810.00 L1411.37,809.36 L1412.07,808.71 L1412.78,808.06 L1413.49,807.41 L1414.19,806.76 L1414.90,806.10 L1415.61,805.44 L1416.32,804.78 L1417.02,804.11 L1417.73,803.44 L1418.44,802.77 L1419.14,802.10 L1419.85,801.42 L1420.56,800.74 L1421.26,800.06 L1421.97,799.38 L1422.68,798.69 L1423.38,798.00 L1424.09,797.30 L1424.80,796.61 L1425.51,795.91 L1426.21,795.21 L1426.92,794.50 L1427.63,793.79 L1428.33,793.08 L1429.04,792.37 L1429.75,791.65 L1430.45,790.93 L1431.16,790.21 L1431.87,789.49 L1432.57,788.76 L1433.28,788.03 L1433.99,787.30 L1434.70,786.57 L1435.40,785.83 L1436.11,785.09 L1436.82,784.34 L1437.52,783.60 L1438.23,782.85 L1438.94,782.10 L1439.64,781.35 L1440.35,780.59 L1441.06,779.83 L1441.77,779.07 L1442.47,778.31 L1443.18,777.54 L1443.89,776.77 L1444.59,776.00 L1445.30,775.22 L1446.01,774.45 L1446.71,773.67 L1447.42,772.88 L1448.13,772.10 L1448.83,771.31 L1449.54,770.52 L1450.25,769.73 L1450.96,768.93 L1451.66,768.14 L1452.37,767.34 L1453.08,766.53 L1453.78,765.73 L1454.49,764.92 L1455.20,764.11 L1455.90,763.30 L1456.61,762.49 L1457.32,761.67 L1458.03,760.85 L1458.73,760.03 L1459.44,759.20 L1460.15,758.37 L1460.85,757.54 L1461.56,756.71 L1462.27,755.88 L1462.97,755.04 L1463.68,754.20 L1464.39,753.36 L1465.09,752.52 L1465.80,751.67 L1466.51,750.82 L1467.22,749.97 L1467.92,749.12 L1468.63,748.26 L1469.34,747.41 L1470.04,746.55 L1470.75,745.68 L1471.46,744.82 L1472.16,743.95 L1472.87,743.08 L1473.58,742.21 L1474.28,741.34 L1474.99,740.46 L1475.70,739.58 L1476.41,738.70 L1477.11,737.82 L1477.82,736.94 L1478.53,736.05 L1479.23,735.16 L1479.94,734.27 L1480.65,733.37 L1481.35,732.48 L1482.06,731.58 L1482.77,730.68 L1483.48,729.78 L1484.18,728.87 L1484.89,727.97 L1485.60,727.06 L1486.30,726.15 L1487.01,725.24 L1487.72,724.32 L1488.42,723.40 L1489.13,722.48 L1489.84,721.56 L1490.54,720.64 L1491.25,719.72 L1491.96,718.79 L1492.67,717.86 L1493.37,716.93 L1494.08,715.99 L1494.79,715.06 L1495.49,714.12 L1496.20,713.18 L1496.91,712.24 L1497.61,711.30 L1498.32,710.35 L1499.03,709.41 L1499.74,708.46 L1500.44,707.51 L1501.15,706.55 L1501.86,705.60 L1502.56,704.64 L1503.27,703.68 L1503.98,702.72 L1504.68,701.76 L1505.39,700.80 L1506.10,699.83 L1506.80,698.86 L1507.51,697.89 L1508.22,696.92 L1508.93,695.95 L1509.63,694.98 L1510.34,694.00 L1511.05,693.02 L1511.75,692.04 L1512.46,691.06 L1513.17,690.07 L1513.87,689.09 L1514.58,688.10 L1515.29,687.11 L1515.99,686.12 L1516.70,685.13 L1517.41,684.14 L1518.12,683.14 L1518.82,682.14 L1519.53,681.14 L1520.24,680.14 L1520.94,679.14 L1521.65,678.14 L1522.36,677.13 L1523.06,676.12 L1523.77,675.11 L1524.48,674.10 L1525.19,673.09 L1525.89,672.08 L1526.60,671.06 L1527.31,670.05 L1528.01,669.03 L1528.72,668.01 L1529.43,666.99 L1530.13,665.96 L1530.84,664.94 L1531.55,663.91 L1532.25,662.89 L1532.96,661.86 L1533.67,660.83 L1534.38,659.80 L1535.08,658.76 L1535.79,657.73 L1536.50,656.69 L1537.20,655.66 L1537.91,654.62 L1538.62,653.58 L1539.32,652.53 L1540.03,651.49 L1540.74,650.45 L1541.45,649.40 L1542.15,648.36 L1542.86,647.31 L1543.57,646.26 L1544.27,645.21 L1544.98,644.15 L1545.69,643.10 L1546.39,642.05 L1547.10,640.99 L1547.81,639.93 L1548.51,638.87 L1549.22,637.81 L1549.93,636.75 L1550.64,635.69 L1551.34,634.63 L1552.05,633.56 L1552.76,632.50 L1553.46,631.43 L1554.17,630.36 L1554.88,629.29 L1555.58,628.22 L1556.29,627.15 L1557.00,626.08 L1557.70,625.01 L1558.41,623.93 L1559.12,622.85 L1559.83,621.78 L1560.53,620.70 L1561.24,619.62 L1561.95,618.54 L1562.65,617.46 L1563.36,616.38 L1564.07,615.29 L1564.77,614.21 L1565.48,613.12 L1566.19,612.04 L1566.90,610.95 L1567.60,609.86 L1568.31,608.77 L1569.02,607.68 L1569.72,606.59 L1570.43,605.50 L1571.14,604.41 L1571.84,603.32 L1572.55,602.22 L1573.26,601.13 L1573.96,600.03 L1574.67,598.93 L1575.38,597.83 L1576.09,596.74 L1576.79,595.64 L1577.50,594.54 L1578.21,593.43 L1578.91,592.33 L1579.62,591.23 L1580.33,590.13 L1581.03,589.02 L1581.74,587.92 L1582.45,586.81 L1583.16,585.70 L1583.86,584.60 L1584.57,583.49 L1585.28,582.38 L1585.98,581.27 L1586.69,580.16 L1587.40,579.05 L1588.10,577.94 L1588.81,576.83 L1589.52,575.72 L1590.22,574.60 L1590.93,573.49 L1591.64,572.38 L1592.35,571.26 L1593.05,570.15 L1593.76,569.03 L1594.47,567.91 L1595.17,566.80 L1595.88,565.68 L1596.59,564.56 L1597.29,563.44 L1598.00,562.32 L1598.71,561.20 L1599.42,560.08 L1600.12,558.96 L1600.83,557.84 L1601.54,556.72 L1602.24,555.60 L1602.95,554.48 L1603.66,553.35 L1604.36,552.23 L1605.07,551.11 L1605.78,549.98 L1606.48,548.86 L1607.19,547.74 L1607.90,546.61 L1608.61,545.49 L1609.31,544.36 L1610.02,543.24 L1610.73,542.11 L1611.43,540.98 L1612.14,539.86 L1612.85,538.73 L1613.55,537.60 L1614.26,536.48 L1614.97,535.35 L1615.67,534.22 L1616.38,533.09 L1617.09,531.97 L1617.80,530.84 L1618.50,529.71 L1619.21,528.58 L1619.92,527.45 L1620.62,526.32 L1621.33,525.19 L1622.04,524.06 L1622.74,522.94 L1623.45,521.81 L1624.16,520.68 L1624.87,519.55 L1625.57,518.42 L1626.28,517.29 L1626.99,516.16 L1627.69,515.03 L1628.40,513.90" stroke="#00B0F0" stroke-width="8.9" stroke-linecap="square"/>
<path d="M214.50,513.90 L215.09,514.85 L215.68,515.79 L216.28,516.74 L216.87,517.68 L217.46,518.63 L218.05,519.58 L218.64,520.52 L219.24,521.47 L219.83,522.41 L220.42,523.36 L221.01,524.30 L221.61,525.25 L222.20,526.20 L222.79,527.14 L223.38,528.09 L223.97,529.03 L224.57,529.98 L225.16,530.92 L225.75,531.87 L226.34,532.81 L226.93,533.76 L227.53,534.70 L228.12,535.65 L228.71,536.59 L229.30,537.53 L229.89,538.48 L230.49,539.42 L231.08,540.36 L231.67,541.31 L232.26,542.25 L232.85,543.19 L233.45,544.14 L234.04,545.08 L234.63,546.02 L235.22,546.96 L235.82,547.91 L236.41,548.85 L237.00,549.79 L237.59,550.73 L238.18,551.67 L238.78,552.61 L239.37,553.55 L239.96,554.49 L240.55,555.43 L241.14,556.37 L241.74,557.31 L242.33,558.25 L242.92,559.19 L243.51,560.13 L244.10,561.06 L244.70,562.00 L245.29,562.94 L245.88,563.88 L246.47,564.81 L247.06,565.75 L247.66,566.69 L248.25,567.62 L248.84,568.56 L249.43,569.49 L250.03,570.43 L250.62,571.36 L251.21,572.29 L251.80,573.23 L252.39,574.16 L252.99,575.09 L253.58,576.02 L254.17,576.96 L254.76,577.89 L255.35,578.82 L255.95,579.75 L256.54,580.68 L257.13,581.61 L257.72,582.54 L258.31,583.46 L258.91,584.39 L259.50,585.32 L260.09,586.25 L260.68,587.17 L261.27,588.10 L261.87,589.02 L262.46,589.95 L263.05,590.87 L263.64,591.80 L264.24,592.72 L264.83,593.64 L265.42,594.57 L266.01,595.49 L266.60,596.41 L267.20,597.33 L267.79,598.25 L268.38,599.17 L268.97,600.09 L269.56,601.00 L270.16,601.92 L270.75,602.84 L271.34,603.76 L271.93,604.67 L272.52,605.59 L273.12,606.50 L273.71,607.41 L274.30,608.33 L274.89,609.24 L275.48,610.15 L276.08,611.06 L276.67,611.97 L277.26,612.88 L277.85,613.79 L278.45,614.70 L279.04,615.61 L279.63,616.52 L280.22,617.42 L280.81,618.33 L281.41,619.23 L282.00,620.14 L282.59,621.04 L283.18,621.94 L283.77,622.84 L284.37,623.75 L284.96,624.65 L285.55,625.55 L286.14,626.44 L286.73,627.34 L287.33,628.24 L287.92,629.14 L288.51,630.03 L289.10,630.93 L289.69,631.82 L290.29,632.71 L290.88,633.61 L291.47,634.50 L292.06,635.39 L292.66,636.28 L293.25,637.17 L293.84,638.06 L294.43,638.94 L295.02,639.83 L295.62,640.72 L296.21,641.60 L296.80,642.48 L297.39,643.37 L297.98,644.25 L298.58,645.13 L299.17,646.01 L299.76,646.89 L300.35,647.77 L300.94,648.65 L301.54,649.52 L302.13,650.40 L302.72,651.27 L303.31,652.15 L303.90,653.02 L304.50,653.89 L305.09,654.76 L305.68,655.63 L306.27,656.50 L306.87,657.37 L307.46,658.24 L308.05,659.10 L308.64,659.97 L309.23,660.83 L309.83,661.69 L310.42,662.56 L311.01,663.42 L311.60,664.28 L312.19,665.14 L312.79,665.99 L313.38,666.85 L313.97,667.71 L314.56,668.56 L315.15,669.41 L315.75,670.27 L316.34,671.12 L316.93,671.97 L317.52,672.82 L318.11,673.66 L318.71,674.51 L319.30,675.36 L319.89,676.20 L320.48,677.05 L321.08,677.89 L321.67,678.73 L322.26,679.57 L322.85,680.41 L323.44,681.25 L324.04,682.08 L324.63,682.92 L325.22,683.75 L325.81,684.59 L326.40,685.42 L327.00,686.25 L327.59,687.08 L328.18,687.91 L328.77,688.73 L329.36,689.56 L329.96,690.39 L330.55,691.21 L331.14,692.03 L331.73,692.85 L332.32,693.67 L332.32,334.13 L332.91,333.31 L333.50,332.50 L334.09,331.69 L334.68,330.87 L335.27,330.06 L335.86,329.25 L336.45,328.45 L337.04,327.64 L337.63,326.84 L338.22,326.03 L338.81,325.23 L339.40,324.43 L339.99,323.63 L340.58,322.83 L341.17,322.03 L341.76,321.24 L342.35,320.44 L342.94,319.65 L343.53,318.86 L344.12,318.06 L344.71,317.27 L345.30,316.49 L345.89,315.70 L346.48,314.91 L347.07,314.13 L347.66,313.35 L348.24,312.57 L348.83,311.79 L349.42,311.01 L350.01,310.23 L350.60,309.46 L351.19,308.68 L351.78,307.91 L352.37,307.14 L352.96,306.37 L353.55,305.60 L354.14,304.83 L354.73,304.07 L355.32,303.30 L355.91,302.54 L356.50,301.78 L357.09,301.02 L357.68,300.26 L358.27,299.50 L358.86,298.75 L359.45,297.99 L360.04,297.24 L360.63,296.49 L361.22,295.74 L361.81,294.99 L362.40,294.24 L362.99,293.50 L363.57,292.76 L364.16,292.01 L364.75,291.27 L365.34,290.53 L365.93,289.80 L366.52,289.06 L367.11,288.33 L367.70,287.59 L368.29,286.86 L368.88,286.13 L369.47,285.40 L370.06,284.68 L370.65,283.95 L371.24,283.23 L371.83,282.51 L372.42,281.79 L373.01,281.07 L373.60,280.35 L374.19,279.64 L374.78,278.92 L375.37,278.21 L375.96,277.50 L376.55,276.79 L377.14,276.08 L377.73,275.38 L378.32,274.67 L378.90,273.97 L379.49,273.27 L380.08,272.57 L380.67,271.87 L381.26,271.18 L381.85,270.48 L382.44,269.79 L383.03,269.10 L383.62,268.41 L384.21,267.72 L384.80,267.04 L385.39,266.35 L385.98,265.67 L386.57,264.99 L387.16,264.31 L387.75,263.63 L388.34,262.96 L388.93,262.29 L389.52,261.61 L390.11,260.94 L390.70,260.27 L391.29,259.61 L391.88,258.94 L392.47,258.28 L393.06,257.62 L393.65,256.96 L394.23,256.30 L394.82,255.64 L395.41,254.99 L396.00,254.34 L396.59,253.68 L397.18,253.04 L397.77,252.39 L398.36,251.74 L398.95,251.10 L399.54,250.46 L400.13,249.82 L400.72,249.18 L401.31,248.54 L401.90,247.91 L402.49,247.27 L403.08,246.64 L403.67,246.01 L404.26,245.39 L404.85,244.76 L405.44,244.14 L406.03,243.51 L406.62,242.89 L407.21,242.28 L407.80,241.66 L408.39,241.05 L408.98,240.43 L409.56,239.82 L410.15,239.21 L410.74,238.61 L411.33,238.00 L411.92,237.40 L412.51,236.80 L413.10,236.20 L413.69,235.60 L414.28,235.01 L414.87,234.41 L415.46,233.82 L416.05,233.23 L416.64,232.64 L417.23,232.06 L417.82,231.47 L418.41,230.89 L419.00,230.31 L419.59,229.73 L420.18,229.16 L420.77,228.58 L421.36,228.01 L421.95,227.44 L422.54,226.87 L423.13,226.30 L423.72,225.74 L424.31,225.18 L424.89,224.62 L425.48,224.06 L426.07,223.50 L426.66,222.95 L427.25,222.40 L427.84,221.84 L428.43,221.30 L429.02,220.75 L429.61,220.21 L430.20,219.66 L430.79,219.12 L431.38,218.58 L431.97,218.05 L432.56,217.51 L433.15,216.98 L433.74,216.45 L434.33,215.92 L434.92,215.40 L435.51,214.87 L436.10,214.35 L436.69,213.83 L437.28,213.31 L437.87,212.80 L438.46,212.28 L439.05,211.77 L439.64,211.26 L440.22,210.75 L440.81,210.25 L441.40,209.74 L441.99,209.24 L442.58,208.74 L443.17,208.25 L443.76,207.75 L444.35,207.26 L444.94,206.77 L445.53,206.28 L446.12,205.79 L446.71,205.31 L447.30,204.83 L447.89,204.35 L448.48,203.87 L449.07,203.39 L449.66,202.92 L450.25,202.45 L450.84,201.98 L451.43,201.51 L452.02,201.04 L452.61,200.58 L453.20,200.12 L453.79,199.66 L454.38,199.20 L454.97,198.75 L455.55,198.30 L456.14,197.85 L456.73,197.40 L457.32,196.95 L457.91,196.51 L458.50,196.07 L459.09,195.63 L459.68,195.19 L460.27,194.76 L460.86,194.32 L461.45,193.89 L462.04,193.46 L462.63,193.04 L463.22,192.61 L463.81,192.19 L464.40,191.77 L464.99,191.36 L465.58,190.94 L466.17,190.53 L466.76,190.12 L467.35,189.71 L467.94,189.30 L468.53,188.90 L469.12,188.50 L469.71,188.10 L470.30,187.70 L470.88,187.30 L471.47,186.91 L472.06,186.52 L472.65,186.13 L473.24,185.75 L473.83,185.36 L474.42,184.98 L475.01,184.60 L475.60,184.22 L476.19,183.85 L476.78,183.48 L477.37,183.11 L477.96,182.74 L478.55,182.37 L479.14,182.01 L479.73,181.65 L480.32,181.29 L480.91,180.93 L481.50,180.58 L482.09,180.23 L482.68,179.88 L483.27,179.53 L483.86,179.18 L484.45,178.84 L485.04,178.50 L485.63,178.16 L486.21,177.83 L486.80,177.49 L487.39,177.16 L487.98,176.83 L488.57,176.51 L489.16,176.18 L489.75,175.86 L490.34,175.54 L490.93,175.22 L491.52,174.91 L492.11,174.59 L492.70,174.28 L493.29,173.98 L493.88,173.67 L494.47,173.37 L495.06,173.07 L495.65,172.77 L496.24,172.47 L496.83,172.18 L497.42,171.88 L498.01,171.59 L498.60,171.31 L499.19,171.02 L499.78,170.74 L500.37,170.46 L500.96,170.18 L501.54,169.91 L502.13,169.63 L502.72,169.36 L503.31,169.10 L503.90,168.83 L504.49,168.57 L505.08,168.31 L505.67,168.05 L506.26,167.79 L506.85,167.54 L507.44,167.29 L508.03,167.04 L508.62,166.79 L509.21,166.54 L509.80,166.30 L510.39,166.06 L510.98,165.83 L511.57,165.59 L512.16,165.36 L512.75,165.13 L513.34,164.90 L513.93,164.68 L514.52,164.45 L515.11,164.23 L515.70,164.01 L516.29,163.80 L516.87,163.58 L517.46,163.37 L518.05,163.17 L518.64,162.96 L519.23,162.76 L519.82,162.55 L520.41,162.36 L521.00,162.16 L521.59,161.97 L522.18,161.77 L522.77,161.58 L523.36,161.40 L523.95,161.21 L524.54,161.03 L525.13,160.85 L525.72,160.67 L526.31,160.50 L526.90,160.33 L527.49,160.16 L528.08,159.99 L528.67,159.83 L529.26,159.66 L529.85,159.50 L530.44,159.35 L531.03,159.19 L531.62,159.04 L532.20,158.89 L532.79,158.74 L533.38,158.59 L533.97,158.45 L534.56,158.31 L535.15,158.17 L535.74,158.04 L536.33,157.90 L536.92,157.77 L537.51,157.64 L538.10,157.52 L538.69,157.39 L539.28,157.27 L539.87,157.16 L540.46,157.04 L541.05,156.93 L541.64,156.81 L542.23,156.71 L542.82,156.60 L543.41,156.50 L544.00,156.39 L544.59,156.29 L545.18,156.20 L545.77,156.10 L546.36,156.01 L546.95,155.92 L547.53,155.84 L548.12,155.75 L548.71,155.67 L549.30,155.59 L549.89,155.51 L550.48,155.44 L551.07,155.37 L551.66,155.30 L552.25,155.23 L552.84,155.17 L553.43,155.11 L554.02,155.05 L554.61,154.99 L555.20,154.93 L555.79,154.88 L556.38,154.83 L556.97,154.78 L557.56,154.74 L558.15,154.70 L558.74,154.66 L559.33,154.62 L559.92,154.59 L560.51,154.55 L561.10,154.52 L561.69,154.49 L562.28,154.47 L562.86,154.45 L563.45,154.43 L564.04,154.41 L564.63,154.39 L565.22,154.38 L565.81,154.37 L566.40,154.36 L566.99,154.36 L567.58,154.36 L568.17,154.35 L568.76,154.36 L569.35,154.36 L569.94,154.37 L570.53,154.38 L571.12,154.39 L571.71,154.40 L572.30,154.42 L572.89,154.44 L573.48,154.46 L574.07,154.49 L574.66,154.51 L575.25,154.54 L575.84,154.57 L576.43,154.61 L577.02,154.64 L577.61,154.68 L578.20,154.73 L578.78,154.77 L579.37,154.82 L579.96,154.86 L580.55,154.92 L581.14,154.97 L581.73,155.03 L582.32,155.09 L582.91,155.15 L583.50,155.21 L584.09,155.28 L584.68,155.34 L585.27,155.42 L585.86,155.49 L586.45,155.57 L587.04,155.64 L587.63,155.73 L588.22,155.81 L588.81,155.89 L589.40,155.98 L589.99,156.07 L590.58,156.17 L591.17,156.26 L591.76,156.36 L592.35,156.46 L592.94,156.56 L593.53,156.67 L594.11,156.78 L594.70,156.89 L595.29,157.00 L595.88,157.12 L596.47,157.23 L597.06,157.35 L597.65,157.48 L598.24,157.60 L598.83,157.73 L599.42,157.86 L600.01,157.99 L600.60,158.13 L601.19,158.26 L601.78,158.40 L602.37,158.55 L602.96,158.69 L603.55,158.84 L604.14,158.99 L604.73,159.14 L605.32,159.29 L605.91,159.45 L606.50,159.61 L607.09,159.77 L607.68,159.94 L608.27,160.10 L608.86,160.27 L609.44,160.44 L610.03,160.62 L610.62,160.79 L611.21,160.97 L611.80,161.15 L612.39,161.34 L612.98,161.52 L613.57,161.71 L614.16,161.90 L614.75,162.09 L615.34,162.29 L615.93,162.49 L616.52,162.69 L617.11,162.89 L617.70,163.10 L618.29,163.30 L618.88,163.51 L619.47,163.73 L620.06,163.94 L620.65,164.16 L621.24,164.38 L621.83,164.60 L622.42,164.83 L623.01,165.05 L623.60,165.28 L624.19,165.51 L624.77,165.75 L625.36,165.98 L625.95,166.22 L626.54,166.46 L627.13,166.71 L627.72,166.95 L628.31,167.20 L628.90,167.45 L629.49,167.71 L630.08,167.96 L630.67,168.22 L631.26,168.48 L631.85,168.74 L632.44,169.01 L633.03,169.27 L633.62,169.54 L634.21,169.82 L634.80,170.09 L635.39,170.37 L635.98,170.65 L636.57,170.93 L637.16,171.21 L637.75,171.50 L638.34,171.79 L638.93,172.08 L639.52,172.37 L640.10,172.67 L640.69,172.97 L641.28,173.27 L641.87,173.57 L642.46,173.87 L643.05,174.18 L643.64,174.49 L644.23,174.80 L644.82,175.12 L645.41,175.43 L646.00,175.75 L646.59,176.07 L647.18,176.40 L647.77,176.72 L648.36,177.05 L648.95,177.38 L649.54,177.71 L650.13,178.05 L650.72,178.39 L651.31,178.73 L651.90,179.07 L652.49,179.41 L653.08,179.76 L653.67,180.11 L654.26,180.46 L654.85,180.81 L655.43,181.17 L656.02,181.53 L656.61,181.89 L657.20,182.25 L657.79,182.62 L658.38,182.98 L658.97,183.35 L659.56,183.73 L660.15,184.10 L660.74,184.48 L661.33,184.85 L661.92,185.23 L662.51,185.62 L663.10,186.00 L663.69,186.39 L664.28,186.78 L664.87,187.17 L665.46,187.57 L666.05,187.96 L666.64,188.36 L667.23,188.76 L667.82,189.17 L668.41,189.57 L669.00,189.98 L669.59,190.39 L670.18,190.80 L670.76,191.22 L671.35,191.63 L671.94,192.05 L672.53,192.47 L673.12,192.90 L673.71,193.32 L674.30,193.75 L674.89,194.18 L675.48,194.61 L676.07,195.05 L676.66,195.48 L677.25,195.92 L677.84,196.36 L678.43,196.80 L679.02,197.25 L679.61,197.70 L680.20,198.15 L680.79,198.60 L681.38,199.05 L681.97,199.51 L682.56,199.97 L683.15,200.43 L683.74,200.89 L684.33,201.35 L684.92,201.82 L685.51,202.29 L686.09,202.76 L686.68,203.23 L687.27,203.71 L687.86,204.19 L688.45,204.67 L689.04,205.15 L689.63,205.63 L690.22,206.12 L690.81,206.61 L691.40,207.10 L691.99,207.59 L692.58,208.08 L693.17,208.58 L693.76,209.08 L694.35,209.58 L694.94,210.08 L695.53,210.59 L696.12,211.09 L696.71,211.60 L697.30,212.11 L697.89,212.63 L698.48,213.14 L699.07,213.66 L699.66,214.18 L700.25,214.70 L700.84,215.22 L701.42,215.75 L702.01,216.27 L702.60,216.80 L703.19,217.34 L703.78,217.87 L704.37,218.41 L704.96,218.94 L705.55,219.48 L706.14,220.02 L706.73,220.57 L707.32,221.11 L707.91,221.66 L708.50,222.21 L709.09,222.76 L709.68,223.32 L710.27,223.87 L710.86,224.43 L711.45,224.99 L712.04,225.55 L712.63,226.12 L713.22,226.68 L713.81,227.25 L714.40,227.82 L714.99,228.39 L715.58,228.96 L716.17,229.54 L716.75,230.12 L717.34,230.70 L717.93,231.28 L718.52,231.86 L719.11,232.45 L719.70,233.03 L720.29,233.62 L720.88,234.21 L721.47,234.81 L722.06,235.40 L722.65,236.00 L723.24,236.60 L723.83,237.20 L724.42,237.80 L725.01,238.40 L725.60,239.01 L726.19,239.62 L726.78,240.23 L727.37,240.84 L727.96,241.46 L728.55,242.07 L729.14,242.69 L729.73,243.31 L730.32,243.93 L730.91,244.55 L731.50,245.18 L732.08,245.80 L732.67,246.43 L733.26,247.06 L733.85,247.70 L734.44,248.33 L735.03,248.97 L735.62,249.60 L736.21,250.24 L736.80,250.88 L737.39,251.53 L737.98,252.17 L738.57,252.82 L739.16,253.47 L739.75,254.12 L740.34,254.77 L740.93,255.42 L741.52,256.08 L742.11,256.74 L742.70,257.40 L743.29,258.06 L743.88,258.72 L744.47,259.39 L745.06,260.05 L745.65,260.72 L746.24,261.39 L746.83,262.06 L747.41,262.73 L748.00,263.41 L748.59,264.09 L749.18,264.76 L749.77,265.44 L750.36,266.13 L750.95,266.81 L751.54,267.50 L752.13,268.18 L752.72,268.87 L753.31,269.56 L753.90,270.25 L754.49,270.95 L755.08,271.64 L755.67,272.34 L756.26,273.04 L756.85,273.74 L757.44,274.44 L758.03,275.14 L758.62,275.85 L759.21,276.55 L759.80,277.26 L760.39,277.97 L760.98,278.69 L761.57,279.40 L762.16,280.11 L762.74,280.83 L763.33,281.55 L763.92,282.27 L764.51,282.99 L765.10,283.71 L765.69,284.44 L766.28,285.16 L766.87,285.89 L767.46,286.62 L768.05,287.35 L768.64,288.08 L769.23,288.82 L769.82,289.55 L770.41,290.29 L771.00,291.03 L771.59,291.77 L772.18,292.51 L772.77,293.25 L773.36,294.00 L773.95,294.74 L774.54,295.49 L775.13,296.24 L775.72,296.99 L776.31,297.74 L776.90,298.50 L777.49,299.25 L778.07,300.01 L778.66,300.76 L779.25,301.52 L779.84,302.29 L780.43,303.05 L781.02,303.81 L781.61,304.58 L782.20,305.34 L782.79,306.11 L783.38,306.88 L783.97,307.65 L784.56,308.42 L785.15,309.20 L785.74,309.97 L786.33,310.75 L786.92,311.53 L787.51,312.31 L788.10,313.09 L788.69,313.87 L789.28,314.65 L789.87,315.44 L790.46,316.22 L791.05,317.01 L791.64,317.80 L792.23,318.59 L792.82,319.38 L793.40,320.18 L793.99,320.97 L794.58,321.77 L795.17,322.56 L795.76,323.36 L796.35,324.16 L796.94,324.96 L797.53,325.76 L798.12,326.57 L798.71,327.37 L799.30,328.18 L799.89,328.99 L800.48,329.79 L801.07,330.60 L801.66,331.41 L802.25,332.23 L802.84,333.04 L803.43,333.86 L804.02,334.67 L804.61,335.49 L805.20,336.31 L805.79,337.13 L806.38,337.95 L806.97,338.77 L807.56,339.59 L808.15,340.42 L808.74,341.24 L809.32,342.07 L809.91,342.90 L810.50,343.73 L811.09,344.56 L811.68,345.39 L812.27,346.22 L812.86,347.06 L813.45,347.89 L814.04,348.73 L814.63,349.57 L815.22,350.40 L815.81,351.24 L816.40,352.08 L816.99,352.93 L817.58,353.77 L818.17,354.61 L818.76,355.46 L819.35,356.30 L819.94,357.15 L820.53,358.00 L821.12,358.85 L821.71,359.70 L822.30,360.55 L822.89,361.40 L823.48,362.26 L824.07,363.11 L824.65,363.97 L825.24,364.83 L825.83,365.68 L826.42,366.54 L827.01,367.40 L827.60,368.26 L828.19,369.12 L828.78,369.99 L829.37,370.85 L829.96,371.72 L830.55,372.58 L831.14,373.45 L831.73,374.32 L832.32,375.18 L832.91,376.05 L833.50,376.92 L834.09,377.80 L834.68,378.67 L835.27,379.54 L835.86,380.42 L836.45,381.29 L837.04,382.17 L837.63,383.04 L838.22,383.92 L838.81,384.80 L839.40,385.68 L839.98,386.56 L840.57,387.44 L841.16,388.33 L841.75,389.21 L842.34,390.09 L842.93,390.98 L843.52,391.86 L844.11,392.75 L844.70,393.64 L845.29,394.53 L845.88,395.41 L846.47,396.30 L847.06,397.19 L847.65,398.09 L848.24,398.98 L848.83,399.87 L849.42,400.77 L850.01,401.66 L850.60,402.56 L851.19,403.45 L851.78,404.35 L852.37,405.25 L852.96,406.14 L853.55,407.04 L854.14,407.94 L854.73,408.84 L855.31,409.75 L855.90,410.65 L856.49,411.55 L857.08,412.45 L857.67,413.36 L858.26,414.26 L858.85,415.17 L859.44,416.07 L860.03,416.98 L860.62,417.89 L861.21,418.80 L861.80,419.71 L862.39,420.62 L862.98,421.53 L863.57,422.44 L864.16,423.35 L864.75,424.26 L865.34,425.17 L865.93,426.09 L866.52,427.00 L867.11,427.91 L867.70,428.83 L868.29,429.74 L868.88,430.66 L869.47,431.58 L870.06,432.49 L870.64,433.41 L871.23,434.33 L871.82,435.25 L872.41,436.17 L873.00,437.09 L873.59,438.01 L874.18,438.93 L874.77,439.85 L875.36,440.78 L875.95,441.70 L876.54,442.62 L877.13,443.54 L877.72,444.47 L878.31,445.39 L878.90,446.32 L879.49,447.24 L880.08,448.17 L880.67,449.10 L881.26,450.02 L881.85,450.95 L882.44,451.88 L883.03,452.81 L883.62,453.73 L884.21,454.66 L884.80,455.59 L885.39,456.52 L885.97,457.45 L886.56,458.38 L887.15,459.31 L887.74,460.25 L888.33,461.18 L888.92,462.11 L889.51,463.04 L890.10,463.97 L890.69,464.91 L891.28,465.84 L891.87,466.78 L892.46,467.71 L893.05,468.64 L893.64,469.58 L894.23,470.51 L894.82,471.45 L895.41,472.38 L896.00,473.32 L896.59,474.26 L897.18,475.19 L897.77,476.13 L898.36,477.07 L898.95,478.00 L899.54,478.94 L900.13,479.88 L900.72,480.82 L901.30,481.76 L901.89,482.69 L902.48,483.63 L903.07,484.57 L903.66,485.51 L904.25,486.45 L904.84,487.39 L905.43,488.33 L906.02,489.27 L906.61,490.21 L907.20,491.15 L907.79,492.09 L908.38,493.03 L908.97,493.97 L909.56,494.91 L910.15,495.85 L910.74,496.79 L911.33,497.73 L911.92,498.67 L912.51,499.62 L913.10,500.56 L913.69,501.50 L914.28,502.44 L914.87,503.38 L915.46,504.32 L916.05,505.27 L916.63,506.21 L917.22,507.15 L917.81,508.09 L918.40,509.03 L918.99,509.97 L919.58,510.92 L920.17,511.86 L920.76,512.80 L921.35,513.74 L921.94,514.69 L922.53,515.63 L923.12,516.57 L923.71,517.51 L924.30,518.45 L924.89,519.40 L925.48,520.34 L926.07,521.28 L926.66,522.22 L927.25,523.16 L927.84,524.10 L928.43,525.05 L929.02,525.99 L929.61,526.93 L930.20,527.87 L930.79,528.81 L931.38,529.75 L931.96,530.69 L932.55,531.64 L933.14,532.58 L933.73,533.52 L934.32,534.46 L934.91,535.40 L935.50,536.34 L936.09,537.28 L936.68,538.22 L937.27,539.16 L937.86,540.10 L938.45,541.04 L939.04,541.98 L939.63,542.92 L940.22,543.85 L940.81,544.79 L941.40,545.73 L941.99,546.67 L942.58,547.61 L943.17,548.55 L943.76,549.48 L944.35,550.42 L944.94,551.36 L945.53,552.29 L946.12,553.23 L946.71,554.17 L947.29,555.10 L947.88,556.04 L948.47,556.97 L949.06,557.91 L949.65,558.84 L950.24,559.78 L950.83,560.71 L951.42,561.65 L952.01,562.58 L952.60,563.51 L953.19,564.45 L953.78,565.38 L954.37,566.31 L954.96,567.24 L955.55,568.17 L956.14,569.11 L956.73,570.04 L957.32,570.97 L957.91,571.90 L958.50,572.83 L959.09,573.76 L959.68,574.68 L960.27,575.61 L960.86,576.54 L961.45,577.47 L962.04,578.40 L962.62,579.32 L963.21,580.25 L963.80,581.17 L964.39,582.10 L964.98,583.02 L965.57,583.95 L966.16,584.87 L966.75,585.79 L967.34,586.72 L967.93,587.64 L968.52,588.56 L969.11,589.48 L969.70,590.40 L970.29,591.32 L970.88,592.24 L971.47,593.16 L972.06,594.08 L972.65,595.00 L973.24,595.92 L973.83,596.83 L974.42,597.75 L975.01,598.67 L975.60,599.58 L976.19,600.50 L976.78,601.41 L977.37,602.32 L977.95,603.24 L978.54,604.15 L979.13,605.06 L979.72,605.97 L980.31,606.88 L980.90,607.79 L981.49,608.70 L982.08,609.61 L982.67,610.52 L983.26,611.42 L983.85,612.33 L984.44,613.24 L985.03,614.14 L985.62,615.04 L986.21,615.95 L986.80,616.85 L987.39,617.75 L987.98,618.66 L988.57,619.56 L989.16,620.46 L989.75,621.36 L990.34,622.25 L990.93,623.15 L991.52,624.05 L992.11,624.95 L992.70,625.84 L993.28,626.74 L993.87,627.63 L994.46,628.52 L995.05,629.42 L995.64,630.31 L996.23,631.20 L996.82,632.09 L997.41,632.98 L998.00,633.87 L998.59,634.75 L999.18,635.64 L999.77,636.53 L1000.36,637.41 L1000.95,638.30 L1001.54,639.18 L1002.13,640.06 L1002.72,640.94 L1003.31,641.83 L1003.90,642.71 L1004.49,643.58 L1005.08,644.46 L1005.67,645.34 L1006.26,646.22 L1006.85,647.09 L1007.44,647.97 L1008.03,648.84 L1008.61,649.71 L1009.20,650.58 L1009.79,651.46 L1010.38,652.33 L1010.97,653.19 L1011.56,654.06 L1012.15,654.93 L1012.74,655.80 L1013.33,656.66 L1013.92,657.53 L1014.51,658.39 L1015.10,659.25 L1015.69,660.11 L1016.28,660.97 L1016.87,661.83 L1017.46,662.69 L1018.05,663.55 L1018.64,664.40 L1019.23,665.26 L1019.82,666.11 L1020.41,666.96 L1021.00,667.82 L1021.59,668.67 L1022.18,669.52 L1022.77,670.37 L1023.36,671.21 L1023.94,672.06 L1024.53,672.91 L1025.12,673.75 L1025.71,674.59 L1026.30,675.44 L1026.89,676.28 L1027.48,677.12 L1028.07,677.96 L1028.66,678.79 L1029.25,679.63 L1029.84,680.46 L1030.43,681.30 L1031.02,682.13 L1031.61,682.96 L1032.20,683.80 L1032.79,684.62 L1033.38,685.45 L1033.97,686.28 L1034.56,687.11 L1035.15,687.93 L1035.74,688.76 L1036.33,689.58 L1036.92,690.40 L1037.51,691.22 L1038.10,692.04 L1038.69,692.86 L1039.28,693.67 L1039.28,334.13 L1040.46,332.50 L1041.64,330.87 L1042.82,329.25 L1044.00,327.63 L1045.18,326.02 L1046.36,324.42 L1047.54,322.82 L1048.72,321.22 L1049.90,319.63 L1051.08,318.05 L1052.26,316.47 L1053.44,314.89 L1054.62,313.32 L1055.80,311.76 L1056.98,310.20 L1058.16,308.65 L1059.35,307.11 L1060.53,305.57 L1061.71,304.03 L1062.89,302.50 L1064.07,300.98 L1065.25,299.46 L1066.43,297.95 L1067.61,296.45 L1068.79,294.95 L1069.97,293.45 L1071.15,291.97 L1072.33,290.49 L1073.51,289.01 L1074.69,287.54 L1075.87,286.08 L1077.05,284.62 L1078.24,283.17 L1079.42,281.73 L1080.60,280.29 L1081.78,278.86 L1082.96,277.44 L1084.14,276.02 L1085.32,274.61 L1086.50,273.21 L1087.68,271.81 L1088.86,270.42 L1090.04,269.03 L1091.22,267.65 L1092.40,266.28 L1093.58,264.92 L1094.76,263.56 L1095.94,262.21 L1097.12,260.87 L1098.31,259.53 L1099.49,258.20 L1100.67,256.88 L1101.85,255.56 L1103.03,254.25 L1104.21,252.95 L1105.39,251.66 L1106.57,250.37 L1107.75,249.09 L1108.93,247.82 L1110.11,246.55 L1111.29,245.30 L1112.47,244.05 L1113.65,242.80 L1114.83,241.57 L1116.01,240.34 L1117.20,239.12 L1118.38,237.91 L1119.56,236.70 L1120.74,235.50 L1121.92,234.31 L1123.10,233.13 L1124.28,231.96 L1125.46,230.79 L1126.64,229.63 L1127.82,228.48 L1129.00,227.34 L1130.18,226.20 L1131.36,225.08 L1132.54,223.96 L1133.72,222.84 L1134.90,221.74 L1136.09,220.65 L1137.27,219.56 L1138.45,218.48 L1139.63,217.41 L1140.81,216.34 L1141.99,215.29 L1143.17,214.24 L1144.35,213.21 L1145.53,212.18 L1146.71,211.15 L1147.89,210.14 L1149.07,209.13 L1150.25,208.14 L1151.43,207.15 L1152.61,206.17 L1153.79,205.20 L1154.97,204.24 L1156.16,203.28 L1157.34,202.34 L1158.52,201.40 L1159.70,200.47 L1160.88,199.55 L1162.06,198.64 L1163.24,197.74 L1164.42,196.84 L1165.60,195.96 L1166.78,195.08 L1167.96,194.21 L1169.14,193.35 L1170.32,192.50 L1171.50,191.66 L1172.68,190.83 L1173.86,190.01 L1175.05,189.19 L1176.23,188.39 L1177.41,187.59 L1178.59,186.80 L1179.77,186.02 L1180.95,185.26 L1182.13,184.49 L1183.31,183.74 L1184.49,183.00 L1185.67,182.27 L1186.85,181.54 L1188.03,180.83 L1189.21,180.12 L1190.39,179.43 L1191.57,178.74 L1192.75,178.06 L1193.94,177.39 L1195.12,176.73 L1196.30,176.08 L1197.48,175.44 L1198.66,174.81 L1199.84,174.19 L1201.02,173.57 L1202.20,172.97 L1203.38,172.37 L1204.56,171.79 L1205.74,171.21 L1206.92,170.65 L1208.10,170.09 L1209.28,169.54 L1210.46,169.01 L1211.64,168.48 L1212.82,167.96 L1214.01,167.45 L1215.19,166.95 L1216.37,166.46 L1217.55,165.98 L1218.73,165.51 L1219.91,165.05 L1221.09,164.59 L1222.27,164.15 L1223.45,163.72 L1224.63,163.30 L1225.81,162.88 L1226.99,162.48 L1228.17,162.09 L1229.35,161.70 L1230.53,161.33 L1231.71,160.96 L1232.90,160.61 L1234.08,160.26 L1235.26,159.93 L1236.44,159.60 L1237.62,159.28 L1238.80,158.98 L1239.98,158.68 L1241.16,158.39 L1242.34,158.12 L1243.52,157.85 L1244.70,157.59 L1245.88,157.34 L1247.06,157.11 L1248.24,156.88 L1249.42,156.66 L1250.60,156.45 L1251.79,156.25 L1252.97,156.07 L1254.15,155.89 L1255.33,155.72 L1256.51,155.56 L1257.69,155.41 L1258.87,155.27 L1260.05,155.14 L1261.23,155.02 L1262.41,154.91 L1263.59,154.81 L1264.77,154.72 L1265.95,154.64 L1267.13,154.57 L1268.31,154.51 L1269.49,154.46 L1270.67,154.42 L1271.86,154.39 L1273.04,154.37 L1274.22,154.36 L1275.40,154.36 L1276.58,154.36 L1277.76,154.38 L1278.94,154.41 L1280.12,154.45 L1281.30,154.50 L1282.48,154.56 L1283.66,154.63 L1284.84,154.70 L1286.02,154.79 L1287.20,154.89 L1288.38,155.00 L1289.56,155.12 L1290.75,155.24 L1291.93,155.38 L1293.11,155.53 L1294.29,155.68 L1295.47,155.85 L1296.65,156.03 L1297.83,156.22 L1299.01,156.41 L1300.19,156.62 L1301.37,156.83 L1302.55,157.06 L1303.73,157.30 L1304.91,157.54 L1306.09,157.80 L1307.27,158.06 L1308.45,158.34 L1309.63,158.62 L1310.82,158.92 L1312.00,159.22 L1313.18,159.54 L1314.36,159.86 L1315.54,160.19 L1316.72,160.54 L1317.90,160.89 L1319.08,161.25 L1320.26,161.63 L1321.44,162.01 L1322.62,162.40 L1323.80,162.80 L1324.98,163.21 L1326.16,163.63 L1327.34,164.07 L1328.52,164.51 L1329.71,164.96 L1330.89,165.42 L1332.07,165.88 L1333.25,166.36 L1334.43,166.85 L1335.61,167.35 L1336.79,167.86 L1337.97,168.37 L1339.15,168.90 L1340.33,169.44 L1341.51,169.98 L1342.69,170.54 L1343.87,171.10 L1345.05,171.67 L1346.23,172.26 L1347.41,172.85 L1348.60,173.45 L1349.78,174.06 L1350.96,174.68 L1352.14,175.31 L1353.32,175.95 L1354.50,176.60 L1355.68,177.26 L1356.86,177.93 L1358.04,178.60 L1359.22,179.29 L1360.40,179.98 L1361.58,180.69 L1362.76,181.40 L1363.94,182.12 L1365.12,182.85 L1366.30,183.59 L1367.48,184.34 L1368.67,185.10 L1369.85,185.87 L1371.03,186.65 L1372.21,187.43 L1373.39,188.23 L1374.57,189.03 L1375.75,189.84 L1376.93,190.67 L1378.11,191.50 L1379.29,192.34 L1380.47,193.18 L1381.65,194.04 L1382.83,194.91 L1384.01,195.78 L1385.19,196.66 L1386.37,197.56 L1387.56,198.46 L1388.74,199.37 L1389.92,200.29 L1391.10,201.21 L1392.28,202.15 L1393.46,203.09 L1394.64,204.04 L1395.82,205.01 L1397.00,205.98 L1398.18,206.95 L1399.36,207.94 L1400.54,208.93 L1401.72,209.94 L1402.90,210.95 L1404.08,211.97 L1405.26,213.00 L1406.45,214.04 L1407.63,215.08 L1408.81,216.13 L1409.99,217.19 L1411.17,218.26 L1412.35,219.34 L1413.53,220.43 L1414.71,221.52 L1415.89,222.62 L1417.07,223.73 L1418.25,224.85 L1419.43,225.98 L1420.61,227.11 L1421.79,228.25 L1422.97,229.40 L1424.15,230.56 L1425.33,231.72 L1426.52,232.90 L1427.70,234.08 L1428.88,235.27 L1430.06,236.46 L1431.24,237.67 L1432.42,238.88 L1433.60,240.10 L1434.78,241.32 L1435.96,242.56 L1437.14,243.80 L1438.32,245.05 L1439.50,246.30 L1440.68,247.57 L1441.86,248.84 L1443.04,250.11 L1444.22,251.40 L1445.41,252.69 L1446.59,253.99 L1447.77,255.30 L1448.95,256.61 L1450.13,257.93 L1451.31,259.26 L1452.49,260.60 L1453.67,261.94 L1454.85,263.29 L1456.03,264.65 L1457.21,266.01 L1458.39,267.38 L1459.57,268.75 L1460.75,270.14 L1461.93,271.53 L1463.11,272.92 L1464.30,274.33 L1465.48,275.74 L1466.66,277.15 L1467.84,278.58 L1469.02,280.01 L1470.20,281.44 L1471.38,282.88 L1472.56,284.33 L1473.74,285.79 L1474.92,287.25 L1476.10,288.72 L1477.28,290.19 L1478.46,291.67 L1479.64,293.16 L1480.82,294.65 L1482.00,296.15 L1483.18,297.65 L1484.37,299.16 L1485.55,300.68 L1486.73,302.20 L1487.91,303.73 L1489.09,305.26 L1490.27,306.80 L1491.45,308.34 L1492.63,309.89 L1493.81,311.45 L1494.99,313.01 L1496.17,314.58 L1497.35,316.15 L1498.53,317.73 L1499.71,319.31 L1500.89,320.90 L1502.07,322.50 L1503.26,324.10 L1504.44,325.70 L1505.62,327.31 L1506.80,328.93 L1507.98,330.55 L1509.16,332.17 L1510.34,333.80 L1511.52,335.44 L1512.70,337.08 L1513.88,338.72 L1515.06,340.37 L1516.24,342.02 L1517.42,343.68 L1518.60,345.35 L1519.78,347.02 L1520.96,348.69 L1522.14,350.37 L1523.33,352.05 L1524.51,353.74 L1525.69,355.43 L1526.87,357.12 L1528.05,358.82 L1529.23,360.53 L1530.41,362.23 L1531.59,363.95 L1532.77,365.66 L1533.95,367.38 L1535.13,369.11 L1536.31,370.84 L1537.49,372.57 L1538.67,374.31 L1539.85,376.05 L1541.03,377.79 L1542.22,379.54 L1543.40,381.29 L1544.58,383.05 L1545.76,384.80 L1546.94,386.57 L1548.12,388.33 L1549.30,390.10 L1550.48,391.87 L1551.66,393.65 L1552.84,395.43 L1554.02,397.21 L1555.20,399.00 L1556.38,400.79 L1557.56,402.58 L1558.74,404.37 L1559.92,406.17 L1561.11,407.97 L1562.29,409.78 L1563.47,411.58 L1564.65,413.39 L1565.83,415.21 L1567.01,417.02 L1568.19,418.84 L1569.37,420.66 L1570.55,422.48 L1571.73,424.31 L1572.91,426.14 L1574.09,427.97 L1575.27,429.80 L1576.45,431.64 L1577.63,433.47 L1578.81,435.31 L1579.99,437.15 L1581.18,439.00 L1582.36,440.84 L1583.54,442.69 L1584.72,444.54 L1585.90,446.39 L1587.08,448.25 L1588.26,450.10 L1589.44,451.96 L1590.62,453.82 L1591.80,455.68 L1592.98,457.54 L1594.16,459.41 L1595.34,461.27 L1596.52,463.14 L1597.70,465.01 L1598.88,466.88 L1600.07,468.75 L1601.25,470.62 L1602.43,472.49 L1603.61,474.37 L1604.79,476.24 L1605.97,478.12 L1607.15,480.00 L1608.33,481.87 L1609.51,483.75 L1610.69,485.63 L1611.87,487.51 L1613.05,489.40 L1614.23,491.28 L1615.41,493.16 L1616.59,495.05 L1617.77,496.93 L1618.96,498.81 L1620.14,500.70 L1621.32,502.58 L1622.50,504.47 L1623.68,506.36 L1624.86,508.24 L1626.04,510.13 L1627.22,512.01 L1628.40,513.90" stroke="#31859C" stroke-width="8.9" stroke-dasharray="30.1 11.9" stroke-linecap="butt"/>
<path d="M214.50,649.04 L215.09,648.75 L215.68,648.47 L216.28,648.19 L216.87,647.90 L217.46,647.61 L218.05,647.33 L218.64,647.04 L219.24,646.75 L219.83,646.46 L220.42,646.17 L221.01,645.88 L221.61,645.59 L222.20,645.30 L222.79,645.00 L223.38,644.71 L223.97,644.41 L224.57,644.12 L225.16,643.82 L225.75,643.53 L226.34,643.23 L226.93,642.93 L227.53,642.63 L228.12,642.33 L228.71,642.03 L229.30,641.73 L229.89,641.43 L230.49,641.12 L231.08,640.82 L231.67,640.52 L232.26,640.21 L232.85,639.91 L233.45,639.60 L234.04,639.29 L234.63,638.99 L235.22,638.68 L235.82,638.37 L236.41,638.06 L237.00,637.75 L237.59,637.44 L238.18,637.13 L238.78,636.81 L239.37,636.50 L239.96,636.19 L240.55,635.87 L241.14,635.56 L241.74,635.24 L242.33,634.92 L242.92,634.61 L243.51,634.29 L244.10,633.97 L244.70,633.65 L245.29,633.33 L245.88,633.01 L246.47,632.69 L247.06,632.37 L247.66,632.04 L248.25,631.72 L248.84,631.40 L249.43,631.07 L250.03,630.75 L250.62,630.42 L251.21,630.09 L251.80,629.77 L252.39,629.44 L252.99,629.11 L253.58,628.78 L254.17,628.45 L254.76,628.12 L255.35,627.79 L255.95,627.46 L256.54,627.13 L257.13,626.79 L257.72,626.46 L258.31,626.12 L258.91,625.79 L259.50,625.45 L260.09,625.12 L260.68,624.78 L261.27,624.44 L261.87,624.10 L262.46,623.77 L263.05,623.43 L263.64,623.09 L264.24,622.75 L264.83,622.41 L265.42,622.06 L266.01,621.72 L266.60,621.38 L267.20,621.03 L267.79,620.69 L268.38,620.35 L268.97,620.00 L269.56,619.65 L270.16,619.31 L270.75,618.96 L271.34,618.61 L271.93,618.26 L272.52,617.92 L273.12,617.57 L273.71,617.22 L274.30,616.87 L274.89,616.51 L275.48,616.16 L276.08,615.81 L276.67,615.46 L277.26,615.10 L277.85,614.75 L278.45,614.39 L279.04,614.04 L279.63,613.68 L280.22,613.33 L280.81,612.97 L281.41,612.61 L282.00,612.26 L282.59,611.90 L283.18,611.54 L283.77,611.18 L284.37,610.82 L284.96,610.46 L285.55,610.10 L286.14,609.74 L286.73,609.37 L287.33,609.01 L287.92,608.65 L288.51,608.28 L289.10,607.92 L289.69,607.55 L290.29,607.19 L290.88,606.82 L291.47,606.46 L292.06,606.09 L292.66,605.72 L293.25,605.35 L293.84,604.99 L294.43,604.62 L295.02,604.25 L295.62,603.88 L296.21,603.51 L296.80,603.14 L297.39,602.76 L297.98,602.39 L298.58,602.02 L299.17,601.65 L299.76,601.27 L300.35,600.90 L300.94,600.53 L301.54,600.15 L302.13,599.78 L302.72,599.40 L303.31,599.02 L303.90,598.65 L304.50,598.27 L305.09,597.89 L305.68,597.52 L306.27,597.14 L306.87,596.76 L307.46,596.38 L308.05,596.00 L308.64,595.62 L309.23,595.24 L309.83,594.86 L310.42,594.48 L311.01,594.09 L311.60,593.71 L312.19,593.33 L312.79,592.95 L313.38,592.56 L313.97,592.18 L314.56,591.79 L315.15,591.41 L315.75,591.02 L316.34,590.64 L316.93,590.25 L317.52,589.86 L318.11,589.48 L318.71,589.09 L319.30,588.70 L319.89,588.31 L320.48,587.92 L321.08,587.54 L321.67,587.15 L322.26,586.76 L322.85,586.37 L323.44,585.98 L324.04,585.59 L324.63,585.19 L325.22,584.80 L325.81,584.41 L326.40,584.02 L327.00,583.62 L327.59,583.23 L328.18,582.84 L328.77,582.44 L329.36,582.05 L329.96,581.66 L330.55,581.26 L331.14,580.86 L331.73,580.47 L332.32,580.07 L332.32,447.73 L332.91,447.61 L333.50,447.49 L334.09,447.37 L334.68,447.25 L335.27,447.12 L335.86,447.00 L336.45,446.87 L337.04,446.75 L337.63,446.62 L338.22,446.50 L338.81,446.37 L339.40,446.24 L339.99,446.11 L340.58,445.98 L341.17,445.85 L341.76,445.71 L342.35,445.58 L342.94,445.45 L343.53,445.31 L344.12,445.18 L344.71,445.04 L345.30,444.90 L345.89,444.76 L346.48,444.62 L347.07,444.48 L347.66,444.34 L348.24,444.20 L348.83,444.06 L349.42,443.92 L350.01,443.77 L350.60,443.63 L351.19,443.48 L351.78,443.34 L352.37,443.19 L352.96,443.04 L353.55,442.89 L354.14,442.74 L354.73,442.59 L355.32,442.44 L355.91,442.29 L356.50,442.14 L357.09,441.98 L357.68,441.83 L358.27,441.67 L358.86,441.52 L359.45,441.36 L360.04,441.20 L360.63,441.05 L361.22,440.89 L361.81,440.73 L362.40,440.57 L362.99,440.41 L363.57,440.24 L364.16,440.08 L364.75,439.92 L365.34,439.76 L365.93,439.59 L366.52,439.43 L367.11,439.26 L367.70,439.09 L368.29,438.93 L368.88,438.76 L369.47,438.59 L370.06,438.42 L370.65,438.25 L371.24,438.08 L371.83,437.91 L372.42,437.73 L373.01,437.56 L373.60,437.39 L374.19,437.21 L374.78,437.04 L375.37,436.86 L375.96,436.69 L376.55,436.51 L377.14,436.33 L377.73,436.16 L378.32,435.98 L378.90,435.80 L379.49,435.62 L380.08,435.44 L380.67,435.26 L381.26,435.07 L381.85,434.89 L382.44,434.71 L383.03,434.53 L383.62,434.34 L384.21,434.16 L384.80,433.97 L385.39,433.79 L385.98,433.60 L386.57,433.41 L387.16,433.22 L387.75,433.04 L388.34,432.85 L388.93,432.66 L389.52,432.47 L390.11,432.28 L390.70,432.09 L391.29,431.89 L391.88,431.70 L392.47,431.51 L393.06,431.32 L393.65,431.12 L394.23,430.93 L394.82,430.73 L395.41,430.54 L396.00,430.34 L396.59,430.15 L397.18,429.95 L397.77,429.75 L398.36,429.55 L398.95,429.35 L399.54,429.16 L400.13,428.96 L400.72,428.76 L401.31,428.55 L401.90,428.35 L402.49,428.15 L403.08,427.95 L403.67,427.75 L404.26,427.55 L404.85,427.34 L405.44,427.14 L406.03,426.93 L406.62,426.73 L407.21,426.52 L407.80,426.32 L408.39,426.11 L408.98,425.91 L409.56,425.70 L410.15,425.49 L410.74,425.28 L411.33,425.07 L411.92,424.87 L412.51,424.66 L413.10,424.45 L413.69,424.24 L414.28,424.03 L414.87,423.82 L415.46,423.60 L416.05,423.39 L416.64,423.18 L417.23,422.97 L417.82,422.76 L418.41,422.54 L419.00,422.33 L419.59,422.11 L420.18,421.90 L420.77,421.69 L421.36,421.47 L421.95,421.25 L422.54,421.04 L423.13,420.82 L423.72,420.61 L424.31,420.39 L424.89,420.17 L425.48,419.95 L426.07,419.74 L426.66,419.52 L427.25,419.30 L427.84,419.08 L428.43,418.86 L429.02,418.64 L429.61,418.42 L430.20,418.20 L430.79,417.98 L431.38,417.76 L431.97,417.54 L432.56,417.32 L433.15,417.10 L433.74,416.87 L434.33,416.65 L434.92,416.43 L435.51,416.21 L436.10,415.98 L436.69,415.76 L437.28,415.54 L437.87,415.31 L438.46,415.09 L439.05,414.86 L439.64,414.64 L440.22,414.41 L440.81,414.19 L441.40,413.96 L441.99,413.74 L442.58,413.51 L443.17,413.28 L443.76,413.06 L444.35,412.83 L444.94,412.60 L445.53,412.38 L446.12,412.15 L446.71,411.92 L447.30,411.69 L447.89,411.46 L448.48,411.24 L449.07,411.01 L449.66,410.78 L450.25,410.55 L450.84,410.32 L451.43,410.09 L452.02,409.86 L452.61,409.63 L453.20,409.40 L453.79,409.17 L454.38,408.94 L454.97,408.71 L455.55,408.48 L456.14,408.25 L456.73,408.02 L457.32,407.79 L457.91,407.56 L458.50,407.33 L459.09,407.10 L459.68,406.86 L460.27,406.63 L460.86,406.40 L461.45,406.17 L462.04,405.94 L462.63,405.70 L463.22,405.47 L463.81,405.24 L464.40,405.01 L464.99,404.77 L465.58,404.54 L466.17,404.31 L466.76,404.07 L467.35,403.84 L467.94,403.61 L468.53,403.37 L469.12,403.14 L469.71,402.91 L470.30,402.67 L470.88,402.44 L471.47,402.21 L472.06,401.97 L472.65,401.74 L473.24,401.50 L473.83,401.27 L474.42,401.04 L475.01,400.80 L475.60,400.57 L476.19,400.33 L476.78,400.10 L477.37,399.87 L477.96,399.63 L478.55,399.40 L479.14,399.16 L479.73,398.93 L480.32,398.69 L480.91,398.46 L481.50,398.22 L482.09,397.99 L482.68,397.76 L483.27,397.52 L483.86,397.29 L484.45,397.05 L485.04,396.82 L485.63,396.58 L486.21,396.35 L486.80,396.11 L487.39,395.88 L487.98,395.64 L488.57,395.41 L489.16,395.18 L489.75,394.94 L490.34,394.71 L490.93,394.47 L491.52,394.24 L492.11,394.00 L492.70,393.77 L493.29,393.54 L493.88,393.30 L494.47,393.07 L495.06,392.83 L495.65,392.60 L496.24,392.37 L496.83,392.13 L497.42,391.90 L498.01,391.66 L498.60,391.43 L499.19,391.20 L499.78,390.96 L500.37,390.73 L500.96,390.50 L501.54,390.26 L502.13,390.03 L502.72,389.80 L503.31,389.56 L503.90,389.33 L504.49,389.10 L505.08,388.87 L505.67,388.63 L506.26,388.40 L506.85,388.17 L507.44,387.94 L508.03,387.71 L508.62,387.47 L509.21,387.24 L509.80,387.01 L510.39,386.78 L510.98,386.55 L511.57,386.32 L512.16,386.09 L512.75,385.85 L513.34,385.62 L513.93,385.39 L514.52,385.16 L515.11,384.93 L515.70,384.70 L516.29,384.47 L516.87,384.24 L517.46,384.01 L518.05,383.78 L518.64,383.55 L519.23,383.33 L519.82,383.10 L520.41,382.87 L521.00,382.64 L521.59,382.41 L522.18,382.18 L522.77,381.96 L523.36,381.73 L523.95,381.50 L524.54,381.27 L525.13,381.05 L525.72,380.82 L526.31,380.59 L526.90,380.37 L527.49,380.14 L528.08,379.92 L528.67,379.69 L529.26,379.46 L529.85,379.24 L530.44,379.01 L531.03,378.79 L531.62,378.57 L532.20,378.34 L532.79,378.12 L533.38,377.89 L533.97,377.67 L534.56,377.45 L535.15,377.22 L535.74,377.00 L536.33,376.78 L536.92,376.56 L537.51,376.34 L538.10,376.11 L538.69,375.89 L539.28,375.67 L539.87,375.45 L540.46,375.23 L541.05,375.01 L541.64,374.79 L542.23,374.57 L542.82,374.35 L543.41,374.13 L544.00,373.92 L544.59,373.70 L545.18,373.48 L545.77,373.26 L546.36,373.04 L546.95,372.83 L547.53,372.61 L548.12,372.39 L548.71,372.18 L549.30,371.96 L549.89,371.75 L550.48,371.53 L551.07,371.32 L551.66,371.10 L552.25,370.89 L552.84,370.68 L553.43,370.46 L554.02,370.25 L554.61,370.04 L555.20,369.83 L555.79,369.61 L556.38,369.40 L556.97,369.19 L557.56,368.98 L558.15,368.77 L558.74,368.56 L559.33,368.35 L559.92,368.14 L560.51,367.93 L561.10,367.73 L561.69,367.52 L562.28,367.31 L562.86,367.10 L563.45,366.90 L564.04,366.69 L564.63,366.48 L565.22,366.28 L565.81,366.07 L566.40,365.87 L566.99,365.67 L567.58,365.46 L568.17,365.26 L568.76,365.05 L569.35,364.85 L569.94,364.65 L570.53,364.45 L571.12,364.25 L571.71,364.05 L572.30,363.85 L572.89,363.65 L573.48,363.45 L574.07,363.25 L574.66,363.05 L575.25,362.85 L575.84,362.65 L576.43,362.46 L577.02,362.26 L577.61,362.06 L578.20,361.87 L578.78,361.67 L579.37,361.48 L579.96,361.28 L580.55,361.09 L581.14,360.89 L581.73,360.70 L582.32,360.51 L582.91,360.32 L583.50,360.13 L584.09,359.93 L584.68,359.74 L585.27,359.55 L585.86,359.36 L586.45,359.18 L587.04,358.99 L587.63,358.80 L588.22,358.61 L588.81,358.42 L589.40,358.24 L589.99,358.05 L590.58,357.87 L591.17,357.68 L591.76,357.50 L592.35,357.31 L592.94,357.13 L593.53,356.95 L594.11,356.76 L594.70,356.58 L595.29,356.40 L595.88,356.22 L596.47,356.04 L597.06,355.86 L597.65,355.68 L598.24,355.50 L598.83,355.33 L599.42,355.15 L600.01,354.97 L600.60,354.79 L601.19,354.62 L601.78,354.44 L602.37,354.27 L602.96,354.10 L603.55,353.92 L604.14,353.75 L604.73,353.58 L605.32,353.40 L605.91,353.23 L606.50,353.06 L607.09,352.89 L607.68,352.72 L608.27,352.56 L608.86,352.39 L609.44,352.22 L610.03,352.05 L610.62,351.89 L611.21,351.72 L611.80,351.55 L612.39,351.39 L612.98,351.23 L613.57,351.06 L614.16,350.90 L614.75,350.74 L615.34,350.58 L615.93,350.41 L616.52,350.25 L617.11,350.09 L617.70,349.94 L618.29,349.78 L618.88,349.62 L619.47,349.46 L620.06,349.31 L620.65,349.15 L621.24,348.99 L621.83,348.84 L622.42,348.69 L623.01,348.53 L623.60,348.38 L624.19,348.23 L624.77,348.08 L625.36,347.93 L625.95,347.78 L626.54,347.63 L627.13,347.48 L627.72,347.33 L628.31,347.18 L628.90,347.03 L629.49,346.89 L630.08,346.74 L630.67,346.60 L631.26,346.45 L631.85,346.31 L632.44,346.17 L633.03,346.03 L633.62,345.88 L634.21,345.74 L634.80,345.60 L635.39,345.46 L635.98,345.32 L636.57,345.19 L637.16,345.05 L637.75,344.91 L638.34,344.78 L638.93,344.64 L639.52,344.51 L640.10,344.37 L640.69,344.24 L641.28,344.11 L641.87,343.98 L642.46,343.84 L643.05,343.71 L643.64,343.58 L644.23,343.46 L644.82,343.33 L645.41,343.20 L646.00,343.07 L646.59,342.95 L647.18,342.82 L647.77,342.70 L648.36,342.57 L648.95,342.45 L649.54,342.33 L650.13,342.21 L650.72,342.08 L651.31,341.96 L651.90,341.85 L652.49,341.73 L653.08,341.61 L653.67,341.49 L654.26,341.37 L654.85,341.26 L655.43,341.14 L656.02,341.03 L656.61,340.92 L657.20,340.80 L657.79,340.69 L658.38,340.58 L658.97,340.47 L659.56,340.36 L660.15,340.25 L660.74,340.14 L661.33,340.03 L661.92,339.93 L662.51,339.82 L663.10,339.72 L663.69,339.61 L664.28,339.51 L664.87,339.41 L665.46,339.30 L666.05,339.20 L666.64,339.10 L667.23,339.00 L667.82,338.90 L668.41,338.81 L669.00,338.71 L669.59,338.61 L670.18,338.52 L670.76,338.42 L671.35,338.33 L671.94,338.23 L672.53,338.14 L673.12,338.05 L673.71,337.96 L674.30,337.87 L674.89,337.78 L675.48,337.69 L676.07,337.60 L676.66,337.51 L677.25,337.43 L677.84,337.34 L678.43,337.26 L679.02,337.17 L679.61,337.09 L680.20,337.01 L680.79,336.93 L681.38,336.85 L681.97,336.77 L682.56,336.69 L683.15,336.61 L683.74,336.53 L684.33,336.46 L684.92,336.38 L685.51,336.31 L686.09,336.23 L686.68,336.16 L687.27,336.09 L687.86,336.01 L688.45,335.94 L689.04,335.87 L689.63,335.80 L690.22,335.74 L690.81,335.67 L691.40,335.60 L691.99,335.54 L692.58,335.47 L693.17,335.41 L693.76,335.34 L694.35,335.28 L694.94,335.22 L695.53,335.16 L696.12,335.10 L696.71,335.04 L697.30,334.98 L697.89,334.93 L698.48,334.87 L699.07,334.81 L699.66,334.76 L700.25,334.71 L700.84,334.65 L701.42,334.60 L702.01,334.55 L702.60,334.50 L703.19,334.45 L703.78,334.40 L704.37,334.35 L704.96,334.31 L705.55,334.26 L706.14,334.22 L706.73,334.17 L707.32,334.13 L707.91,334.08 L708.50,334.04 L709.09,334.00 L709.68,333.96 L710.27,333.92 L710.86,333.88 L711.45,333.85 L712.04,333.81 L712.63,333.78 L713.22,333.74 L713.81,333.71 L714.40,333.67 L714.99,333.64 L715.58,333.61 L716.17,333.58 L716.75,333.55 L717.34,333.52 L717.93,333.49 L718.52,333.47 L719.11,333.44 L719.70,333.42 L720.29,333.39 L720.88,333.37 L721.47,333.35 L722.06,333.33 L722.65,333.31 L723.24,333.29 L723.83,333.27 L724.42,333.25 L725.01,333.23 L725.60,333.22 L726.19,333.20 L726.78,333.19 L727.37,333.17 L727.96,333.16 L728.55,333.15 L729.14,333.14 L729.73,333.13 L730.32,333.12 L730.91,333.11 L731.50,333.11 L732.08,333.10 L732.67,333.09 L733.26,333.09 L733.85,333.09 L734.44,333.08 L735.03,333.08 L735.62,333.08 L736.21,333.08 L736.80,333.08 L737.39,333.09 L737.98,333.09 L738.57,333.09 L739.16,333.10 L739.75,333.10 L740.34,333.11 L740.93,333.12 L741.52,333.13 L742.11,333.14 L742.70,333.15 L743.29,333.16 L743.88,333.17 L744.47,333.18 L745.06,333.20 L745.65,333.21 L746.24,333.23 L746.83,333.24 L747.41,333.26 L748.00,333.28 L748.59,333.30 L749.18,333.32 L749.77,333.34 L750.36,333.36 L750.95,333.39 L751.54,333.41 L752.13,333.44 L752.72,333.46 L753.31,333.49 L753.90,333.52 L754.49,333.55 L755.08,333.58 L755.67,333.61 L756.26,333.64 L756.85,333.67 L757.44,333.70 L758.03,333.74 L758.62,333.77 L759.21,333.81 L759.80,333.85 L760.39,333.89 L760.98,333.93 L761.57,333.97 L762.16,334.01 L762.74,334.05 L763.33,334.09 L763.92,334.14 L764.51,334.18 L765.10,334.23 L765.69,334.27 L766.28,334.32 L766.87,334.37 L767.46,334.42 L768.05,334.47 L768.64,334.52 L769.23,334.57 L769.82,334.62 L770.41,334.68 L771.00,334.73 L771.59,334.79 L772.18,334.85 L772.77,334.90 L773.36,334.96 L773.95,335.02 L774.54,335.08 L775.13,335.14 L775.72,335.21 L776.31,335.27 L776.90,335.34 L777.49,335.40 L778.07,335.47 L778.66,335.53 L779.25,335.60 L779.84,335.67 L780.43,335.74 L781.02,335.81 L781.61,335.88 L782.20,335.96 L782.79,336.03 L783.38,336.11 L783.97,336.18 L784.56,336.26 L785.15,336.34 L785.74,336.41 L786.33,336.49 L786.92,336.57 L787.51,336.66 L788.10,336.74 L788.69,336.82 L789.28,336.91 L789.87,336.99 L790.46,337.08 L791.05,337.16 L791.64,337.25 L792.23,337.34 L792.82,337.43 L793.40,337.52 L793.99,337.61 L794.58,337.71 L795.17,337.80 L795.76,337.89 L796.35,337.99 L796.94,338.09 L797.53,338.18 L798.12,338.28 L798.71,338.38 L799.30,338.48 L799.89,338.58 L800.48,338.68 L801.07,338.79 L801.66,338.89 L802.25,339.00 L802.84,339.10 L803.43,339.21 L804.02,339.32 L804.61,339.43 L805.20,339.54 L805.79,339.65 L806.38,339.76 L806.97,339.87 L807.56,339.98 L808.15,340.10 L808.74,340.21 L809.32,340.33 L809.91,340.45 L810.50,340.56 L811.09,340.68 L811.68,340.80 L812.27,340.92 L812.86,341.05 L813.45,341.17 L814.04,341.29 L814.63,341.42 L815.22,341.54 L815.81,341.67 L816.40,341.80 L816.99,341.93 L817.58,342.05 L818.17,342.18 L818.76,342.32 L819.35,342.45 L819.94,342.58 L820.53,342.72 L821.12,342.85 L821.71,342.99 L822.30,343.12 L822.89,343.26 L823.48,343.40 L824.07,343.54 L824.65,343.68 L825.24,343.82 L825.83,343.96 L826.42,344.11 L827.01,344.25 L827.60,344.40 L828.19,344.54 L828.78,344.69 L829.37,344.84 L829.96,344.98 L830.55,345.13 L831.14,345.29 L831.73,345.44 L832.32,345.59 L832.91,345.74 L833.50,345.90 L834.09,346.05 L834.68,346.21 L835.27,346.37 L835.86,346.52 L836.45,346.68 L837.04,346.84 L837.63,347.00 L838.22,347.17 L838.81,347.33 L839.40,347.49 L839.98,347.66 L840.57,347.82 L841.16,347.99 L841.75,348.15 L842.34,348.32 L842.93,348.49 L843.52,348.66 L844.11,348.83 L844.70,349.00 L845.29,349.18 L845.88,349.35 L846.47,349.52 L847.06,349.70 L847.65,349.88 L848.24,350.05 L848.83,350.23 L849.42,350.41 L850.01,350.59 L850.60,350.77 L851.19,350.95 L851.78,351.14 L852.37,351.32 L852.96,351.50 L853.55,351.69 L854.14,351.87 L854.73,352.06 L855.31,352.25 L855.90,352.44 L856.49,352.63 L857.08,352.82 L857.67,353.01 L858.26,353.20 L858.85,353.40 L859.44,353.59 L860.03,353.79 L860.62,353.98 L861.21,354.18 L861.80,354.38 L862.39,354.57 L862.98,354.77 L863.57,354.97 L864.16,355.18 L864.75,355.38 L865.34,355.58 L865.93,355.78 L866.52,355.99 L867.11,356.20 L867.70,356.40 L868.29,356.61 L868.88,356.82 L869.47,357.03 L870.06,357.24 L870.64,357.45 L871.23,357.66 L871.82,357.87 L872.41,358.09 L873.00,358.30 L873.59,358.52 L874.18,358.73 L874.77,358.95 L875.36,359.17 L875.95,359.38 L876.54,359.60 L877.13,359.82 L877.72,360.05 L878.31,360.27 L878.90,360.49 L879.49,360.72 L880.08,360.94 L880.67,361.17 L881.26,361.39 L881.85,361.62 L882.44,361.85 L883.03,362.08 L883.62,362.31 L884.21,362.54 L884.80,362.77 L885.39,363.00 L885.97,363.23 L886.56,363.47 L887.15,363.70 L887.74,363.94 L888.33,364.17 L888.92,364.41 L889.51,364.65 L890.10,364.89 L890.69,365.13 L891.28,365.37 L891.87,365.61 L892.46,365.85 L893.05,366.10 L893.64,366.34 L894.23,366.59 L894.82,366.83 L895.41,367.08 L896.00,367.33 L896.59,367.57 L897.18,367.82 L897.77,368.07 L898.36,368.32 L898.95,368.57 L899.54,368.83 L900.13,369.08 L900.72,369.33 L901.30,369.59 L901.89,369.84 L902.48,370.10 L903.07,370.36 L903.66,370.61 L904.25,370.87 L904.84,371.13 L905.43,371.39 L906.02,371.65 L906.61,371.92 L907.20,372.18 L907.79,372.44 L908.38,372.71 L908.97,372.97 L909.56,373.24 L910.15,373.50 L910.74,373.77 L911.33,374.04 L911.92,374.31 L912.51,374.58 L913.10,374.85 L913.69,375.12 L914.28,375.39 L914.87,375.66 L915.46,375.94 L916.05,376.21 L916.63,376.49 L917.22,376.76 L917.81,377.04 L918.40,377.32 L918.99,377.60 L919.58,377.87 L920.17,378.15 L920.76,378.43 L921.35,378.72 L921.94,379.00 L922.53,379.28 L923.12,379.56 L923.71,379.85 L924.30,380.13 L924.89,380.42 L925.48,380.71 L926.07,380.99 L926.66,381.28 L927.25,381.57 L927.84,381.86 L928.43,382.15 L929.02,382.44 L929.61,382.73 L930.20,383.02 L930.79,383.32 L931.38,383.61 L931.96,383.91 L932.55,384.20 L933.14,384.50 L933.73,384.79 L934.32,385.09 L934.91,385.39 L935.50,385.69 L936.09,385.99 L936.68,386.29 L937.27,386.59 L937.86,386.89 L938.45,387.20 L939.04,387.50 L939.63,387.80 L940.22,388.11 L940.81,388.41 L941.40,388.72 L941.99,389.03 L942.58,389.33 L943.17,389.64 L943.76,389.95 L944.35,390.26 L944.94,390.57 L945.53,390.88 L946.12,391.19 L946.71,391.50 L947.29,391.82 L947.88,392.13 L948.47,392.45 L949.06,392.76 L949.65,393.08 L950.24,393.39 L950.83,393.71 L951.42,394.03 L952.01,394.35 L952.60,394.67 L953.19,394.99 L953.78,395.31 L954.37,395.63 L954.96,395.95 L955.55,396.27 L956.14,396.59 L956.73,396.92 L957.32,397.24 L957.91,397.57 L958.50,397.89 L959.09,398.22 L959.68,398.55 L960.27,398.87 L960.86,399.20 L961.45,399.53 L962.04,399.86 L962.62,400.19 L963.21,400.52 L963.80,400.85 L964.39,401.18 L964.98,401.52 L965.57,401.85 L966.16,402.18 L966.75,402.52 L967.34,402.85 L967.93,403.19 L968.52,403.53 L969.11,403.86 L969.70,404.20 L970.29,404.54 L970.88,404.88 L971.47,405.22 L972.06,405.56 L972.65,405.90 L973.24,406.24 L973.83,406.58 L974.42,406.92 L975.01,407.27 L975.60,407.61 L976.19,407.95 L976.78,408.30 L977.37,408.64 L977.95,408.99 L978.54,409.34 L979.13,409.68 L979.72,410.03 L980.31,410.38 L980.90,410.73 L981.49,411.08 L982.08,411.43 L982.67,411.78 L983.26,412.13 L983.85,412.48 L984.44,412.83 L985.03,413.19 L985.62,413.54 L986.21,413.89 L986.80,414.25 L987.39,414.60 L987.98,414.96 L988.57,415.31 L989.16,415.67 L989.75,416.03 L990.34,416.39 L990.93,416.74 L991.52,417.10 L992.11,417.46 L992.70,417.82 L993.28,418.18 L993.87,418.54 L994.46,418.90 L995.05,419.27 L995.64,419.63 L996.23,419.99 L996.82,420.36 L997.41,420.72 L998.00,421.08 L998.59,421.45 L999.18,421.81 L999.77,422.18 L1000.36,422.55 L1000.95,422.91 L1001.54,423.28 L1002.13,423.65 L1002.72,424.02 L1003.31,424.39 L1003.90,424.76 L1004.49,425.13 L1005.08,425.50 L1005.67,425.87 L1006.26,426.24 L1006.85,426.61 L1007.44,426.98 L1008.03,427.36 L1008.61,427.73 L1009.20,428.10 L1009.79,428.48 L1010.38,428.85 L1010.97,429.23 L1011.56,429.60 L1012.15,429.98 L1012.74,430.36 L1013.33,430.73 L1013.92,431.11 L1014.51,431.49 L1015.10,431.87 L1015.69,432.24 L1016.28,432.62 L1016.87,433.00 L1017.46,433.38 L1018.05,433.76 L1018.64,434.14 L1019.23,434.53 L1019.82,434.91 L1020.41,435.29 L1021.00,435.67 L1021.59,436.06 L1022.18,436.44 L1022.77,436.82 L1023.36,437.21 L1023.94,437.59 L1024.53,437.98 L1025.12,438.36 L1025.71,438.75 L1026.30,439.13 L1026.89,439.52 L1027.48,439.91 L1028.07,440.29 L1028.66,440.68 L1029.25,441.07 L1029.84,441.46 L1030.43,441.85 L1031.02,442.24 L1031.61,442.63 L1032.20,443.02 L1032.79,443.41 L1033.38,443.80 L1033.97,444.19 L1034.56,444.58 L1035.15,444.97 L1035.74,445.37 L1036.33,445.76 L1036.92,446.15 L1037.51,446.54 L1038.10,446.94 L1038.69,447.33 L1039.28,447.73 L1039.28,580.07 L1040.46,580.31 L1041.64,580.56 L1042.82,580.80 L1044.00,581.05 L1045.18,581.31 L1046.36,581.56 L1047.54,581.82 L1048.72,582.09 L1049.90,582.36 L1051.08,582.63 L1052.26,582.90 L1053.44,583.18 L1054.62,583.46 L1055.80,583.74 L1056.98,584.03 L1058.16,584.32 L1059.35,584.62 L1060.53,584.91 L1061.71,585.22 L1062.89,585.52 L1064.07,585.83 L1065.25,586.13 L1066.43,586.45 L1067.61,586.76 L1068.79,587.08 L1069.97,587.40 L1071.15,587.73 L1072.33,588.06 L1073.51,588.39 L1074.69,588.72 L1075.87,589.05 L1077.05,589.39 L1078.24,589.73 L1079.42,590.08 L1080.60,590.43 L1081.78,590.78 L1082.96,591.13 L1084.14,591.48 L1085.32,591.84 L1086.50,592.20 L1087.68,592.56 L1088.86,592.93 L1090.04,593.29 L1091.22,593.66 L1092.40,594.03 L1093.58,594.41 L1094.76,594.78 L1095.94,595.16 L1097.12,595.54 L1098.31,595.93 L1099.49,596.31 L1100.67,596.70 L1101.85,597.09 L1103.03,597.48 L1104.21,597.88 L1105.39,598.27 L1106.57,598.67 L1107.75,599.07 L1108.93,599.47 L1110.11,599.88 L1111.29,600.28 L1112.47,600.69 L1113.65,601.10 L1114.83,601.51 L1116.01,601.93 L1117.20,602.34 L1118.38,602.76 L1119.56,603.18 L1120.74,603.60 L1121.92,604.02 L1123.10,604.44 L1124.28,604.87 L1125.46,605.29 L1126.64,605.72 L1127.82,606.15 L1129.00,606.58 L1130.18,607.02 L1131.36,607.45 L1132.54,607.89 L1133.72,608.32 L1134.90,608.76 L1136.09,609.20 L1137.27,609.64 L1138.45,610.08 L1139.63,610.53 L1140.81,610.97 L1141.99,611.42 L1143.17,611.86 L1144.35,612.31 L1145.53,612.76 L1146.71,613.21 L1147.89,613.66 L1149.07,614.11 L1150.25,614.57 L1151.43,615.02 L1152.61,615.48 L1153.79,615.93 L1154.97,616.39 L1156.16,616.85 L1157.34,617.30 L1158.52,617.76 L1159.70,618.22 L1160.88,618.68 L1162.06,619.14 L1163.24,619.61 L1164.42,620.07 L1165.60,620.53 L1166.78,621.00 L1167.96,621.46 L1169.14,621.92 L1170.32,622.39 L1171.50,622.86 L1172.68,623.32 L1173.86,623.79 L1175.05,624.25 L1176.23,624.72 L1177.41,625.19 L1178.59,625.66 L1179.77,626.13 L1180.95,626.59 L1182.13,627.06 L1183.31,627.53 L1184.49,628.00 L1185.67,628.47 L1186.85,628.94 L1188.03,629.41 L1189.21,629.88 L1190.39,630.35 L1191.57,630.82 L1192.75,631.29 L1193.94,631.76 L1195.12,632.23 L1196.30,632.70 L1197.48,633.17 L1198.66,633.64 L1199.84,634.10 L1201.02,634.57 L1202.20,635.04 L1203.38,635.51 L1204.56,635.98 L1205.74,636.45 L1206.92,636.91 L1208.10,637.38 L1209.28,637.85 L1210.46,638.31 L1211.64,638.78 L1212.82,639.25 L1214.01,639.71 L1215.19,640.18 L1216.37,640.64 L1217.55,641.10 L1218.73,641.57 L1219.91,642.03 L1221.09,642.49 L1222.27,642.95 L1223.45,643.41 L1224.63,643.87 L1225.81,644.33 L1226.99,644.79 L1228.17,645.25 L1229.35,645.70 L1230.53,646.16 L1231.71,646.61 L1232.90,647.07 L1234.08,647.52 L1235.26,647.97 L1236.44,648.42 L1237.62,648.87 L1238.80,649.32 L1239.98,649.77 L1241.16,650.22 L1242.34,650.67 L1243.52,651.11 L1244.70,651.55 L1245.88,652.00 L1247.06,652.44 L1248.24,652.88 L1249.42,653.32 L1250.60,653.76 L1251.79,654.19 L1252.97,654.63 L1254.15,655.06 L1255.33,655.50 L1256.51,655.93 L1257.69,656.36 L1258.87,656.79 L1260.05,657.22 L1261.23,657.64 L1262.41,658.07 L1263.59,658.49 L1264.77,658.91 L1265.95,659.33 L1267.13,659.75 L1268.31,660.17 L1269.49,660.58 L1270.67,661.00 L1271.86,661.41 L1273.04,661.82 L1274.22,662.23 L1275.40,662.64 L1276.58,663.04 L1277.76,663.45 L1278.94,663.85 L1280.12,664.25 L1281.30,664.65 L1282.48,665.04 L1283.66,665.44 L1284.84,665.83 L1286.02,666.22 L1287.20,666.61 L1288.38,667.00 L1289.56,667.39 L1290.75,667.77 L1291.93,668.15 L1293.11,668.53 L1294.29,668.91 L1295.47,669.28 L1296.65,669.66 L1297.83,670.03 L1299.01,670.40 L1300.19,670.76 L1301.37,671.13 L1302.55,671.49 L1303.73,671.85 L1304.91,672.21 L1306.09,672.57 L1307.27,672.92 L1308.45,673.27 L1309.63,673.62 L1310.82,673.97 L1312.00,674.32 L1313.18,674.66 L1314.36,675.00 L1315.54,675.34 L1316.72,675.67 L1317.90,676.01 L1319.08,676.34 L1320.26,676.67 L1321.44,676.99 L1322.62,677.31 L1323.80,677.64 L1324.98,677.95 L1326.16,678.27 L1327.34,678.58 L1328.52,678.89 L1329.71,679.20 L1330.89,679.51 L1332.07,679.81 L1333.25,680.11 L1334.43,680.41 L1335.61,680.71 L1336.79,681.00 L1337.97,681.29 L1339.15,681.57 L1340.33,681.86 L1341.51,682.14 L1342.69,682.42 L1343.87,682.70 L1345.05,682.97 L1346.23,683.24 L1347.41,683.51 L1348.60,683.77 L1349.78,684.04 L1350.96,684.30 L1352.14,684.55 L1353.32,684.81 L1354.50,685.06 L1355.68,685.30 L1356.86,685.55 L1358.04,685.79 L1359.22,686.03 L1360.40,686.27 L1361.58,686.50 L1362.76,686.73 L1363.94,686.96 L1365.12,687.18 L1366.30,687.40 L1367.48,687.62 L1368.67,687.83 L1369.85,688.05 L1371.03,688.26 L1372.21,688.46 L1373.39,688.66 L1374.57,688.86 L1375.75,689.06 L1376.93,689.25 L1378.11,689.44 L1379.29,689.63 L1380.47,689.81 L1381.65,689.99 L1382.83,690.17 L1384.01,690.35 L1385.19,690.52 L1386.37,690.68 L1387.56,690.85 L1388.74,691.01 L1389.92,691.17 L1391.10,691.32 L1392.28,691.47 L1393.46,691.62 L1394.64,691.76 L1395.82,691.91 L1397.00,692.04 L1398.18,692.18 L1399.36,692.31 L1400.54,692.44 L1401.72,692.56 L1402.90,692.68 L1404.08,692.80 L1405.26,692.91 L1406.45,693.03 L1407.63,693.13 L1408.81,693.24 L1409.99,693.34 L1411.17,693.43 L1412.35,693.53 L1413.53,693.62 L1414.71,693.70 L1415.89,693.79 L1417.07,693.87 L1418.25,693.94 L1419.43,694.02 L1420.61,694.08 L1421.79,694.15 L1422.97,694.21 L1424.15,694.27 L1425.33,694.33 L1426.52,694.38 L1427.70,694.42 L1428.88,694.47 L1430.06,694.51 L1431.24,694.55 L1432.42,694.58 L1433.60,694.61 L1434.78,694.64 L1435.96,694.66 L1437.14,694.68 L1438.32,694.69 L1439.50,694.70 L1440.68,694.71 L1441.86,694.72 L1443.04,694.72 L1444.22,694.71 L1445.41,694.71 L1446.59,694.70 L1447.77,694.68 L1448.95,694.67 L1450.13,694.64 L1451.31,694.62 L1452.49,694.59 L1453.67,694.56 L1454.85,694.52 L1456.03,694.48 L1457.21,694.44 L1458.39,694.39 L1459.57,694.34 L1460.75,694.29 L1461.93,694.23 L1463.11,694.17 L1464.30,694.10 L1465.48,694.03 L1466.66,693.96 L1467.84,693.88 L1469.02,693.80 L1470.20,693.72 L1471.38,693.63 L1472.56,693.53 L1473.74,693.44 L1474.92,693.34 L1476.10,693.24 L1477.28,693.13 L1478.46,693.02 L1479.64,692.90 L1480.82,692.78 L1482.00,692.66 L1483.18,692.54 L1484.37,692.41 L1485.55,692.27 L1486.73,692.14 L1487.91,692.00 L1489.09,691.85 L1490.27,691.70 L1491.45,691.55 L1492.63,691.39 L1493.81,691.23 L1494.99,691.07 L1496.17,690.90 L1497.35,690.73 L1498.53,690.56 L1499.71,690.38 L1500.89,690.19 L1502.07,690.01 L1503.26,689.82 L1504.44,689.62 L1505.62,689.43 L1506.80,689.22 L1507.98,689.02 L1509.16,688.81 L1510.34,688.60 L1511.52,688.38 L1512.70,688.16 L1513.88,687.94 L1515.06,687.71 L1516.24,687.48 L1517.42,687.24 L1518.60,687.00 L1519.78,686.76 L1520.96,686.51 L1522.14,686.26 L1523.33,686.01 L1524.51,685.75 L1525.69,685.49 L1526.87,685.22 L1528.05,684.95 L1529.23,684.68 L1530.41,684.40 L1531.59,684.12 L1532.77,683.84 L1533.95,683.55 L1535.13,683.26 L1536.31,682.97 L1537.49,682.67 L1538.67,682.36 L1539.85,682.06 L1541.03,681.75 L1542.22,681.43 L1543.40,681.12 L1544.58,680.80 L1545.76,680.47 L1546.94,680.14 L1548.12,679.81 L1549.30,679.48 L1550.48,679.14 L1551.66,678.79 L1552.84,678.45 L1554.02,678.10 L1555.20,677.74 L1556.38,677.39 L1557.56,677.02 L1558.74,676.66 L1559.92,676.29 L1561.11,675.92 L1562.29,675.54 L1563.47,675.16 L1564.65,674.78 L1565.83,674.40 L1567.01,674.01 L1568.19,673.61 L1569.37,673.22 L1570.55,672.81 L1571.73,672.41 L1572.91,672.00 L1574.09,671.59 L1575.27,671.18 L1576.45,670.76 L1577.63,670.34 L1578.81,669.91 L1579.99,669.48 L1581.18,669.05 L1582.36,668.62 L1583.54,668.18 L1584.72,667.74 L1585.90,667.29 L1587.08,666.84 L1588.26,666.39 L1589.44,665.93 L1590.62,665.47 L1591.80,665.01 L1592.98,664.54 L1594.16,664.07 L1595.34,663.60 L1596.52,663.13 L1597.70,662.65 L1598.88,662.16 L1600.07,661.68 L1601.25,661.19 L1602.43,660.69 L1603.61,660.20 L1604.79,659.70 L1605.97,659.20 L1607.15,658.69 L1608.33,658.18 L1609.51,657.67 L1610.69,657.15 L1611.87,656.63 L1613.05,656.11 L1614.23,655.59 L1615.41,655.06 L1616.59,654.53 L1617.77,653.99 L1618.96,653.45 L1620.14,652.91 L1621.32,652.37 L1622.50,651.82 L1623.68,651.27 L1624.86,650.72 L1626.04,650.16 L1627.22,649.60 L1628.40,649.04" stroke="#E026D2" stroke-width="8.9" stroke-linecap="square"/>
<path d="M332.32,513.90 L332.32,909.40" stroke="#000" stroke-width="3.6" stroke-dasharray="16.6 11.15" stroke-dashoffset="0"/>
<path d="M1039.28,513.90 L1039.28,909.40" stroke="#000" stroke-width="3.6" stroke-dasharray="16.6 11.15" stroke-dashoffset="2"/>
</g>
<g fill="#000" stroke="none">
<rect x="234.50" y="830.90" width="77.82" height="7.2"/>
<path d="M246.50,821.40 L218.50,832.60 L213.90,832.60 L213.90,836.40 L218.50,836.40 L246.50,847.60 L239.80,834.50 Z"/>
<path d="M300.32,821.40 L328.32,832.60 L332.93,832.60 L332.93,836.40 L328.32,836.40 L300.32,847.60 L307.02,834.50 Z"/>
<rect x="352.32" y="830.90" width="666.95" height="7.2"/>
<path d="M364.32,821.40 L336.32,832.60 L331.72,832.60 L331.72,836.40 L336.32,836.40 L364.32,847.60 L357.62,834.50 Z"/>
<path d="M1007.28,821.40 L1035.28,832.60 L1039.88,832.60 L1039.88,836.40 L1035.28,836.40 L1007.28,847.60 L1013.98,834.50 Z"/>
</g>
<rect x="214.5" y="118.4" width="1413.9" height="791.0" fill="none" stroke="#000" stroke-width="4.9"/>
<path d="M214.50,909.40 V884.80 M214.50,118.40 V143.00 M285.19,909.40 V896.80 M285.19,118.40 V131.00 M355.89,909.40 V896.80 M355.89,118.40 V131.00 M426.59,909.40 V896.80 M426.59,118.40 V131.00 M497.28,909.40 V896.80 M497.28,118.40 V131.00 M567.98,909.40 V884.80 M567.98,118.40 V143.00 M638.67,909.40 V896.80 M638.67,118.40 V131.00 M709.37,909.40 V896.80 M709.37,118.40 V131.00 M780.06,909.40 V896.80 M780.06,118.40 V131.00 M850.76,909.40 V896.80 M850.76,118.40 V131.00 M921.45,909.40 V884.80 M921.45,118.40 V143.00 M992.14,909.40 V896.80 M992.14,118.40 V131.00 M1062.84,909.40 V896.80 M1062.84,118.40 V131.00 M1133.54,909.40 V896.80 M1133.54,118.40 V131.00 M1204.23,909.40 V896.80 M1204.23,118.40 V131.00 M1274.93,909.40 V884.80 M1274.93,118.40 V143.00 M1345.62,909.40 V896.80 M1345.62,118.40 V131.00 M1416.32,909.40 V896.80 M1416.32,118.40 V131.00 M1487.01,909.40 V896.80 M1487.01,118.40 V131.00 M1557.70,909.40 V896.80 M1557.70,118.40 V131.00 M1628.40,909.40 V884.80 M1628.40,118.40 V143.00 M214.50,860.59 H227.10 M214.50,802.81 H227.10 M214.50,745.02 H239.10 M214.50,687.24 H227.10 M214.50,629.46 H227.10 M214.50,571.68 H227.10 M214.50,513.90 H239.10 M214.50,456.12 H227.10 M214.50,398.34 H227.10 M214.50,340.56 H227.10 M214.50,282.78 H239.10 M214.50,224.99 H227.10 M214.50,167.21 H227.10 M1628.40,909.40 H1603.80 M1628.40,869.85 H1615.80 M1628.40,830.30 H1615.80 M1628.40,790.75 H1615.80 M1628.40,751.20 H1615.80 M1628.40,711.65 H1603.80 M1628.40,672.10 H1615.80 M1628.40,632.55 H1615.80 M1628.40,593.00 H1615.80 M1628.40,553.45 H1615.80 M1628.40,513.90 H1603.80 M1628.40,474.35 H1615.80 M1628.40,434.80 H1615.80 M1628.40,395.25 H1615.80 M1628.40,355.70 H1615.80 M1628.40,316.15 H1603.80 M1628.40,276.60 H1615.80 M1628.40,237.05 H1615.80 M1628.40,197.50 H1615.80 M1628.40,157.95 H1615.80 M1628.40,118.40 H1603.80" stroke="#000" stroke-width="4.2" fill="none"/>

<rect x="409.0" y="19.9" width="1024.5" height="89.1" rx="10.5" ry="10.5" fill="#fff" stroke="#D5D5D5" stroke-width="7.7"/>
<path d="M421.45,58.4 H548.55" stroke="#00B0F0" stroke-width="8.9" stroke-linecap="square" fill="none"/>
<path d="M797.1,58.4 H923.8" stroke="#31859C" stroke-width="8.9" stroke-dasharray="29.8 11.8" fill="none"/>
<path d="M1180.55,58.4 H1307.45" stroke="#E026D2" stroke-width="8.9" stroke-linecap="square" fill="none"/>
<text id="yl200" transform="translate(187.20,300.00) scale(0.9958,0.9931)" text-anchor="end">200</text>
<text id="yl0" transform="translate(188.50,531.30) scale(1.0694,0.9839)" text-anchor="end">0</text>
<text id="ylm200" transform="translate(182.70,762.80) scale(0.9893,1.0)" text-anchor="end">200</text>
<text id="ylm200m" transform="translate(45.30,774.30) scale(1.1246,1.3211)" text-anchor="start">−</text>
<text id="yr100" transform="translate(1657.70,134.20) scale(0.9738,0.9565)" text-anchor="start">100</text>
<text id="yr50" transform="translate(1654.00,334.30) scale(1.0171,0.9956)" text-anchor="start">50</text>
<text id="yr0" transform="translate(1655.40,529.60) scale(1.0473,0.9565)" text-anchor="start">0</text>
<text id="yrm50" transform="translate(1697.80,729.80) scale(1.028,1.0138)" text-anchor="start">50</text>
<text id="yrm100" transform="translate(1701.20,927.20) scale(0.973,1.0092)" text-anchor="start">100</text>
<text id="yrm50m" transform="translate(1657.20,740.90) scale(1.1246,1.3211)" text-anchor="start">−</text>
<text id="yrm100m" transform="translate(1657.20,938.30) scale(1.1246,1.3211)" text-anchor="start">−</text>
<text id="xt0" transform="translate(214.50,980.40) scale(1.0332,0.9931)" text-anchor="middle">0</text>
<text id="xtpi2" transform="translate(565.90,974.50) scale(0.9787,0.9575)" text-anchor="middle"><tspan class="it">π</tspan>/2</text>
<text id="xtpi" transform="translate(917.90,975.70) scale(0.9701,0.8957)" text-anchor="middle"><tspan class="it">π</tspan></text>
<text id="xt3pi2" transform="translate(1272.20,975.30) scale(1.0046,0.9575)" text-anchor="middle">3<tspan class="it">π</tspan>/2</text>
<text id="xt2pi" transform="translate(1623.90,976.50)" text-anchor="middle">2<tspan class="it">π</tspan></text>
<text id="xlab" transform="translate(917.70,1052.20) scale(0.9655,0.9097)" text-anchor="middle"><tspan class="it">ωt</tspan> (rad)</text>
<text id="ylabL" transform="translate(57.20,514.20) rotate(-90) scale(0.999,0.8874)" text-anchor="middle">Voltage (V)</text>
<text id="ylabR" transform="translate(1812.00,514.80) rotate(-90) scale(0.9828,0.926)" text-anchor="middle">Current (A)</text>
<text id="alpha" transform="translate(271.10,814.20) scale(1.0985,0.8727)" text-anchor="middle"><tspan class="it">α</tspan></text>
<text id="pi" transform="translate(684.40,813.80) scale(1.0761,0.8877)" text-anchor="middle"><tspan class="it">π</tspan></text>
<text id="lv1" transform="translate(599.10,76.00) scale(0.9445,0.9081)" text-anchor="start"><tspan class="it">v</tspan></text>
<text id="lac1" transform="translate(626.90,85.10) scale(0.9975,0.996)" text-anchor="start" style="font-size:45.4px">ac</text>
<text id="lv2" transform="translate(974.50,75.60) scale(0.9411,0.9177)" text-anchor="start"><tspan class="it">v</tspan></text>
<text id="ldc2" transform="translate(1002.00,85.10) scale(0.9902,0.9648)" text-anchor="start" style="font-size:45.4px">dc</text>
<text id="li3" transform="translate(1357.00,73.20) scale(0.9689,0.9409)" text-anchor="start"><tspan class="it">i</tspan></text>
<text id="lac3" transform="translate(1374.60,82.80)" text-anchor="start" style="font-size:45.4px">ac</text>
</svg>
</body></html>
